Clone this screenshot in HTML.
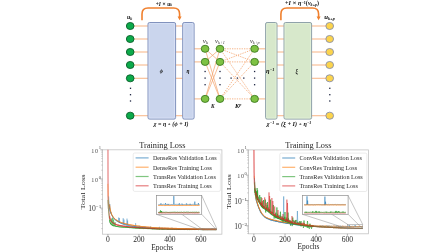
<!DOCTYPE html>
<html><head><meta charset="utf-8"><title>Figure</title>
<style>
html,body{margin:0;padding:0;background:#fff;}
body{width:448px;height:252px;overflow:hidden;}
svg{display:block;font-family:'Liberation Serif', 'DejaVu Serif', serif;}
</style></head>
<body>
<svg width="448" height="252" viewBox="0 0 448 252">
<rect width="448" height="252" fill="#fff"/>
<g id="diagram">
<line x1="133.5" y1="26" x2="148.5" y2="26" stroke="#f8bb8f" stroke-width="1.1"/>
<line x1="175.5" y1="26" x2="183" y2="26" stroke="#f8bb8f" stroke-width="1.1"/>
<line x1="133.5" y1="39" x2="148.5" y2="39" stroke="#f8bb8f" stroke-width="1.1"/>
<line x1="175.5" y1="39" x2="183" y2="39" stroke="#f8bb8f" stroke-width="1.1"/>
<line x1="133.5" y1="52" x2="148.5" y2="52" stroke="#f8bb8f" stroke-width="1.1"/>
<line x1="175.5" y1="52" x2="183" y2="52" stroke="#f8bb8f" stroke-width="1.1"/>
<line x1="133.5" y1="65" x2="148.5" y2="65" stroke="#f8bb8f" stroke-width="1.1"/>
<line x1="175.5" y1="65" x2="183" y2="65" stroke="#f8bb8f" stroke-width="1.1"/>
<line x1="133.5" y1="78.3" x2="148.5" y2="78.3" stroke="#f8bb8f" stroke-width="1.1"/>
<line x1="175.5" y1="78.3" x2="183" y2="78.3" stroke="#f8bb8f" stroke-width="1.1"/>
<line x1="133.5" y1="115.7" x2="148.5" y2="115.7" stroke="#f8bb8f" stroke-width="1.1"/>
<line x1="175.5" y1="115.7" x2="183" y2="115.7" stroke="#f8bb8f" stroke-width="1.1"/>
<line x1="310.5" y1="26" x2="326" y2="26" stroke="#f8bb8f" stroke-width="1.1"/>
<line x1="276.5" y1="26" x2="284.5" y2="26" stroke="#f8bb8f" stroke-width="1.1"/>
<line x1="310.5" y1="39" x2="326" y2="39" stroke="#f8bb8f" stroke-width="1.1"/>
<line x1="276.5" y1="39" x2="284.5" y2="39" stroke="#f8bb8f" stroke-width="1.1"/>
<line x1="310.5" y1="52" x2="326" y2="52" stroke="#f8bb8f" stroke-width="1.1"/>
<line x1="276.5" y1="52" x2="284.5" y2="52" stroke="#f8bb8f" stroke-width="1.1"/>
<line x1="310.5" y1="65" x2="326" y2="65" stroke="#f8bb8f" stroke-width="1.1"/>
<line x1="276.5" y1="65" x2="284.5" y2="65" stroke="#f8bb8f" stroke-width="1.1"/>
<line x1="310.5" y1="78.3" x2="326" y2="78.3" stroke="#f8bb8f" stroke-width="1.1"/>
<line x1="276.5" y1="78.3" x2="284.5" y2="78.3" stroke="#f8bb8f" stroke-width="1.1"/>
<line x1="310.5" y1="115.7" x2="326" y2="115.7" stroke="#f8bb8f" stroke-width="1.1"/>
<line x1="276.5" y1="115.7" x2="284.5" y2="115.7" stroke="#f8bb8f" stroke-width="1.1"/>
<line x1="193.5" y1="48.8" x2="201" y2="48.8" stroke="#f8bb8f" stroke-width="1.1"/>
<line x1="258" y1="48.8" x2="266" y2="48.8" stroke="#f8bb8f" stroke-width="1.1"/>
<line x1="193.5" y1="61.9" x2="201" y2="61.9" stroke="#f8bb8f" stroke-width="1.1"/>
<line x1="258" y1="61.9" x2="266" y2="61.9" stroke="#f8bb8f" stroke-width="1.1"/>
<line x1="193.5" y1="98.9" x2="201" y2="98.9" stroke="#f8bb8f" stroke-width="1.1"/>
<line x1="258" y1="98.9" x2="266" y2="98.9" stroke="#f8bb8f" stroke-width="1.1"/>
<line x1="205.1" y1="48.8" x2="220.0" y2="61.9" stroke="#f39c62" stroke-width="0.65"/>
<line x1="205.1" y1="61.9" x2="220.0" y2="48.8" stroke="#f39c62" stroke-width="0.65"/>
<line x1="205.1" y1="48.8" x2="220.0" y2="98.9" stroke="#f39c62" stroke-width="0.65"/>
<line x1="205.1" y1="98.9" x2="220.0" y2="48.8" stroke="#f39c62" stroke-width="0.65"/>
<line x1="205.1" y1="61.9" x2="220.0" y2="98.9" stroke="#f39c62" stroke-width="0.65"/>
<line x1="205.1" y1="98.9" x2="220.0" y2="61.9" stroke="#f39c62" stroke-width="0.65"/>
<line x1="220.0" y1="48.8" x2="254.6" y2="48.8" stroke="#f39c62" stroke-width="0.75" stroke-dasharray="1.3 1.1"/>
<line x1="220.0" y1="61.9" x2="254.6" y2="61.9" stroke="#f39c62" stroke-width="0.75" stroke-dasharray="1.3 1.1"/>
<line x1="220.0" y1="98.9" x2="254.6" y2="98.9" stroke="#f39c62" stroke-width="0.75" stroke-dasharray="1.3 1.1"/>
<line x1="220.0" y1="48.8" x2="254.6" y2="61.9" stroke="#f39c62" stroke-width="0.75" stroke-dasharray="1.3 1.1"/>
<line x1="220.0" y1="61.9" x2="254.6" y2="48.8" stroke="#f39c62" stroke-width="0.75" stroke-dasharray="1.3 1.1"/>
<line x1="220.0" y1="48.8" x2="254.6" y2="98.9" stroke="#f39c62" stroke-width="0.75" stroke-dasharray="1.3 1.1"/>
<line x1="220.0" y1="98.9" x2="254.6" y2="48.8" stroke="#f39c62" stroke-width="0.75" stroke-dasharray="1.3 1.1"/>
<line x1="220.0" y1="61.9" x2="254.6" y2="98.9" stroke="#f39c62" stroke-width="0.75" stroke-dasharray="1.3 1.1"/>
<line x1="220.0" y1="98.9" x2="254.6" y2="61.9" stroke="#f39c62" stroke-width="0.75" stroke-dasharray="1.3 1.1"/>
<rect x="148" y="22.5" width="27.6" height="96.6" rx="1.5" fill="#cad5ed" stroke="#8192bd" stroke-width="1.0"/>
<rect x="182.7" y="22.5" width="11.4" height="96.6" rx="1.5" fill="#cad5ed" stroke="#8192bd" stroke-width="1.0"/>
<rect x="265.6" y="22.5" width="11.4" height="96.6" rx="1.5" fill="#d7e8cb" stroke="#8fa2aa" stroke-width="1.0"/>
<rect x="284" y="22.5" width="27.6" height="96.6" rx="1.5" fill="#d7e8cb" stroke="#8fa2aa" stroke-width="1.0"/>
<rect x="149.1" y="23.6" width="25.4" height="94.4" rx="1" fill="none" stroke="#dfe6f8" stroke-width="0.6"/>
<rect x="183.8" y="23.6" width="9.2" height="94.4" rx="1" fill="none" stroke="#dfe6f8" stroke-width="0.6"/>
<rect x="266.7" y="23.6" width="9.2" height="94.4" rx="1" fill="none" stroke="#e6f3de" stroke-width="0.6"/>
<rect x="285.1" y="23.6" width="25.4" height="94.4" rx="1" fill="none" stroke="#e6f3de" stroke-width="0.6"/>
<ellipse cx="130.2" cy="26" rx="3.85" ry="3.55" fill="#0caa4a" stroke="#0a5e2a" stroke-width="0.9"/>
<ellipse cx="329.7" cy="26" rx="3.85" ry="3.55" fill="#fcd44c" stroke="#8a90a8" stroke-width="0.9"/>
<ellipse cx="130.2" cy="39" rx="3.85" ry="3.55" fill="#0caa4a" stroke="#0a5e2a" stroke-width="0.9"/>
<ellipse cx="329.7" cy="39" rx="3.85" ry="3.55" fill="#fcd44c" stroke="#8a90a8" stroke-width="0.9"/>
<ellipse cx="130.2" cy="52" rx="3.85" ry="3.55" fill="#0caa4a" stroke="#0a5e2a" stroke-width="0.9"/>
<ellipse cx="329.7" cy="52" rx="3.85" ry="3.55" fill="#fcd44c" stroke="#8a90a8" stroke-width="0.9"/>
<ellipse cx="130.2" cy="65" rx="3.85" ry="3.55" fill="#0caa4a" stroke="#0a5e2a" stroke-width="0.9"/>
<ellipse cx="329.7" cy="65" rx="3.85" ry="3.55" fill="#fcd44c" stroke="#8a90a8" stroke-width="0.9"/>
<ellipse cx="130.2" cy="78.3" rx="3.85" ry="3.55" fill="#0caa4a" stroke="#0a5e2a" stroke-width="0.9"/>
<ellipse cx="329.7" cy="78.3" rx="3.85" ry="3.55" fill="#fcd44c" stroke="#8a90a8" stroke-width="0.9"/>
<ellipse cx="130.2" cy="115.7" rx="3.85" ry="3.55" fill="#0caa4a" stroke="#0a5e2a" stroke-width="0.9"/>
<ellipse cx="329.7" cy="115.7" rx="3.85" ry="3.55" fill="#fcd44c" stroke="#8a90a8" stroke-width="0.9"/>
<ellipse cx="205.1" cy="48.8" rx="3.85" ry="3.55" fill="#7ec243" stroke="#3e7a22" stroke-width="0.9"/>
<ellipse cx="205.1" cy="61.9" rx="3.85" ry="3.55" fill="#7ec243" stroke="#3e7a22" stroke-width="0.9"/>
<ellipse cx="205.1" cy="98.9" rx="3.85" ry="3.55" fill="#7ec243" stroke="#3e7a22" stroke-width="0.9"/>
<ellipse cx="220" cy="48.8" rx="3.85" ry="3.55" fill="#7ec243" stroke="#3e7a22" stroke-width="0.9"/>
<ellipse cx="220" cy="61.9" rx="3.85" ry="3.55" fill="#7ec243" stroke="#3e7a22" stroke-width="0.9"/>
<ellipse cx="220" cy="98.9" rx="3.85" ry="3.55" fill="#7ec243" stroke="#3e7a22" stroke-width="0.9"/>
<ellipse cx="254.6" cy="48.8" rx="3.85" ry="3.55" fill="#7ec243" stroke="#3e7a22" stroke-width="0.9"/>
<ellipse cx="254.6" cy="61.9" rx="3.85" ry="3.55" fill="#7ec243" stroke="#3e7a22" stroke-width="0.9"/>
<ellipse cx="254.6" cy="98.9" rx="3.85" ry="3.55" fill="#7ec243" stroke="#3e7a22" stroke-width="0.9"/>
<rect x="129.85" y="87.65" width="1.3" height="1.3" fill="#1c2340"/>
<rect x="129.85" y="94.05" width="1.3" height="1.3" fill="#1c2340"/>
<rect x="129.85" y="100.35" width="1.3" height="1.3" fill="#1c2340"/>
<rect x="329.15" y="87.65" width="1.3" height="1.3" fill="#1c2340"/>
<rect x="329.15" y="94.05" width="1.3" height="1.3" fill="#1c2340"/>
<rect x="329.15" y="100.35" width="1.3" height="1.3" fill="#1c2340"/>
<rect x="204.45" y="70.85" width="1.3" height="1.3" fill="#1c2340"/>
<rect x="204.45" y="77.45" width="1.3" height="1.3" fill="#1c2340"/>
<rect x="204.45" y="84.05" width="1.3" height="1.3" fill="#1c2340"/>
<rect x="219.35" y="70.85" width="1.3" height="1.3" fill="#1c2340"/>
<rect x="219.35" y="77.45" width="1.3" height="1.3" fill="#1c2340"/>
<rect x="219.35" y="84.05" width="1.3" height="1.3" fill="#1c2340"/>
<rect x="253.95" y="70.85" width="1.3" height="1.3" fill="#1c2340"/>
<rect x="253.95" y="77.45" width="1.3" height="1.3" fill="#1c2340"/>
<rect x="253.95" y="84.05" width="1.3" height="1.3" fill="#1c2340"/>
<rect x="230.45" y="77.45" width="1.3" height="1.3" fill="#1c2340"/>
<rect x="236.75" y="77.45" width="1.3" height="1.3" fill="#1c2340"/>
<rect x="243.15" y="77.45" width="1.3" height="1.3" fill="#1c2340"/>
<path d="M142,20.2 V14 Q142,8 148,8 H173.6 Q179.6,8 179.6,14 V17.0" fill="none" stroke="#f0802e" stroke-width="1.6"/>
<path d="M177.6,16.4 L181.6,16.4 L179.6,20.2 Z" fill="#f0802e"/>
<path d="M280.9,20.2 V14 Q280.9,8 286.9,8 H312.6 Q318.6,8 318.6,14 V17.0" fill="none" stroke="#f0802e" stroke-width="1.6"/>
<path d="M316.6,16.4 L320.6,16.4 L318.6,20.2 Z" fill="#f0802e"/>
<text x="127" y="19" font-size="5.2" fill="#111" style="font-style:italic;font-weight:bold" textLength="5.2" lengthAdjust="spacingAndGlyphs">u<tspan font-size="3.4" dy="0.9">k</tspan></text>
<text x="324.3" y="19" font-size="5.2" fill="#111" style="font-style:italic;font-weight:bold" textLength="10.8" lengthAdjust="spacingAndGlyphs">u<tspan font-size="3.4" dy="0.9">k+p</tspan></text>
<text x="202.7" y="42.6" font-size="5.2" fill="#333" style="font-style:italic" textLength="5.4" lengthAdjust="spacingAndGlyphs">v<tspan font-size="3.4" dy="0.9">k</tspan></text>
<text x="215" y="42.6" font-size="5.2" fill="#333" style="font-style:italic" textLength="9.8" lengthAdjust="spacingAndGlyphs">v<tspan font-size="3.4" dy="0.9">k+1</tspan></text>
<text x="249.9" y="42.6" font-size="5.2" fill="#333" style="font-style:italic" textLength="9.8" lengthAdjust="spacingAndGlyphs">v<tspan font-size="3.4" dy="0.9">k+p</tspan></text>
<text x="155.7" y="5.5" font-size="5.4" fill="#111" style="font-weight:bold" textLength="16.4" lengthAdjust="spacingAndGlyphs">+<tspan font-style="italic">I</tspan> <tspan font-size="6.2">×</tspan> <tspan font-style="italic">u</tspan><tspan font-size="3.6" dy="0.9" font-style="italic">k</tspan></text>
<text x="285.1" y="5.4" font-size="5.4" fill="#111" style="font-weight:bold" textLength="34.0" lengthAdjust="spacingAndGlyphs">+<tspan font-style="italic">I</tspan> <tspan font-size="6.2">×</tspan> <tspan font-style="italic">η</tspan><tspan font-size="3.6" dy="-1.7">−1</tspan><tspan dy="1.7">(</tspan><tspan font-style="italic">v</tspan><tspan font-size="3.6" dy="0.9" font-style="italic">k+p</tspan><tspan dy="-0.9">)</tspan></text>
<text x="161.2" y="73" font-size="5.4" text-anchor="middle" fill="#111" style="font-style:italic;font-weight:bold" >ϕ</text>
<text x="188" y="72.8" font-size="5.4" text-anchor="middle" fill="#111" style="font-style:italic;font-weight:bold" >η</text>
<text x="266.1" y="73" font-size="5.4" fill="#111" style="font-style:italic;font-weight:bold" textLength="8.4" lengthAdjust="spacingAndGlyphs">η<tspan font-size="3.6" dy="-1.7">−1</tspan></text>
<text x="296.8" y="73" font-size="5.4" text-anchor="middle" fill="#111" style="font-style:italic;font-weight:bold" >ξ</text>
<text x="210.9" y="107.9" font-size="5.4" fill="#111" style="font-style:italic;font-weight:bold" textLength="3.6" lengthAdjust="spacingAndGlyphs">K</text>
<text x="234.9" y="107.9" font-size="5.4" fill="#111" style="font-style:italic;font-weight:bold" textLength="6.4" lengthAdjust="spacingAndGlyphs">K<tspan font-size="3.6" dy="-1.8">p</tspan></text>
<text x="153.7" y="126" font-size="5.6" fill="#111" style="font-style:italic;font-weight:bold" textLength="34.8" lengthAdjust="spacingAndGlyphs">χ = η ∘ (ϕ + I)</text>
<text x="266.8" y="125.8" font-size="5.6" fill="#111" style="font-style:italic;font-weight:bold" textLength="44.6" lengthAdjust="spacingAndGlyphs">χ<tspan font-size="3.6" dy="-1.8">−1</tspan><tspan dy="1.8"> = (ξ + I) ∘ η</tspan><tspan font-size="3.6" dy="-1.8">−1</tspan></text>
</g>
<g id="plots">
<clipPath id="clip102"><rect x="102.5" y="149.8" width="119.4" height="84.4"/></clipPath>
<rect x="102.5" y="149.8" width="119.4" height="84.4" fill="#fff" stroke="#c4c4c4" stroke-width="0.8"/>
<g clip-path="url(#clip102)" fill="none" stroke-linejoin="round">
<polyline points="107.9,118.2 108.0,169.1 108.1,196.1 108.2,199.8 108.2,202.1 108.3,203.6 108.4,204.9 108.5,206.3 108.5,207.6 108.6,208.8 108.7,209.8 108.8,210.8 108.9,211.7 108.9,212.4 109.0,213.1 109.1,213.7 109.2,214.3 109.2,214.8 109.3,215.3 109.4,215.8 109.5,216.3 109.6,216.7 109.6,217.1 109.7,217.5 109.8,217.8 109.9,218.1 109.9,218.3 110.0,218.6 110.1,218.8 110.2,219.0 110.3,219.2 110.3,219.4 110.4,219.5 110.5,219.7 110.6,219.9 110.6,220.0 110.7,220.2 110.8,220.3 110.9,220.5 111.0,220.6 111.0,220.8 111.3,221.2 111.6,221.6 112.0,222.0 112.3,222.3 112.6,222.5 112.9,222.8 113.2,223.0 113.5,223.2 113.8,223.4 114.1,223.6 114.4,223.8 114.8,223.9 115.1,224.1 115.4,224.2 115.7,224.3 116.0,224.5 116.3,224.6 116.6,224.7 116.9,224.8 117.2,224.9 117.5,225.0 117.9,225.1 118.2,225.2 118.5,225.3 118.8,225.3 119.1,225.4 119.4,225.5 119.7,225.5 120.0,225.6 120.3,225.7 120.6,225.7 121.0,225.8 121.3,225.8 121.6,225.9 121.9,225.9 122.2,226.0 122.5,226.0 122.8,226.1 123.1,226.1 123.4,226.2 123.7,226.2 124.1,226.2 124.4,226.3 124.7,226.3 125.0,226.4 125.3,226.4 125.6,226.4 125.9,226.5 126.2,226.5 126.5,226.5 126.8,226.6 127.2,226.6 127.5,226.7 127.8,226.7 128.1,226.7 128.4,226.8 128.7,226.8 129.0,226.8 129.3,226.9 129.6,226.9 129.9,226.9 130.3,227.0 130.6,227.0 130.9,227.0 131.2,227.1 131.5,227.1 131.8,227.1 132.1,227.1 132.4,227.2 132.7,227.2 133.0,227.2 133.4,227.3 133.7,227.3 134.0,227.3 134.3,227.4 134.6,227.4 134.9,227.4 135.2,227.4 135.5,227.5 135.8,227.5 136.1,227.5 136.5,227.5 136.8,227.6 137.1,227.6 137.4,227.6 137.7,227.6 138.0,227.7 138.3,227.7 138.6,227.7 138.9,227.7 139.3,227.8 139.6,227.8 139.9,227.8 140.2,227.8 140.5,227.8 140.8,227.9 141.1,227.9 141.4,227.9 141.7,227.9 142.0,227.9 142.4,227.9 142.7,228.0 143.0,228.0 143.3,228.0 143.6,228.0 143.9,228.0 144.2,228.1 144.5,228.1 144.8,228.1 145.1,228.1 145.5,228.1 145.8,228.1 146.1,228.2 146.4,228.2 146.7,228.2 147.0,228.2 147.3,228.2 147.6,228.3 147.9,228.3 148.2,228.3 148.6,228.3 148.9,228.3 149.2,228.3 149.5,228.4 149.8,228.4 150.1,228.4 150.4,228.4 150.7,228.4 151.0,228.4 151.3,228.4 151.7,228.5 152.0,228.5 152.3,228.5 152.6,228.5 152.9,228.5 153.2,228.5 153.5,228.6 153.8,228.6 154.1,228.6 154.4,228.6 154.8,228.6 155.1,228.6 155.4,228.6 155.7,228.6 156.0,228.7 156.3,228.7 156.6,228.7 156.9,228.7 157.2,228.7 157.5,228.7 157.9,228.7 158.2,228.7 158.5,228.7 158.8,228.8 159.1,228.8 159.4,228.8 159.7,228.8 160.0,228.8 160.3,228.8 160.6,228.8 161.0,228.8 161.3,228.8 161.6,228.8 161.9,228.9 162.2,228.9 162.5,228.9 162.8,228.9 163.1,228.9 163.4,228.9 163.8,228.9 164.1,228.9 164.4,228.9 164.7,228.9 165.0,228.9 165.3,228.9 165.6,228.9 165.9,228.9 166.2,228.9 166.5,228.9 166.9,229.0 167.2,229.0 167.5,229.0 167.8,229.0 168.1,229.0 168.4,229.0 168.7,229.0 169.0,229.0 169.3,229.0 169.6,229.0 170.0,229.0 170.3,229.0 170.6,229.0 170.9,229.0 171.2,229.0 171.5,229.0 171.8,229.0 172.1,229.1 172.4,229.1 172.7,229.1 173.1,229.1 173.4,229.1 173.7,229.1 174.0,229.1 174.3,229.1 174.6,229.1 174.9,229.1 175.2,229.1 175.5,229.1 175.8,229.1 176.2,229.1 176.5,229.1 176.8,229.1 177.1,229.1 177.4,229.1 177.7,229.1 178.0,229.2 178.3,229.2 178.6,229.2 178.9,229.2 179.3,229.2 179.6,229.2 179.9,229.2 180.2,229.2 180.5,229.2 180.8,229.2 181.1,229.2 181.4,229.2 181.7,229.2 182.0,229.2 182.4,229.2 182.7,229.2 183.0,229.2 183.3,229.2 183.6,229.2 183.9,229.2 184.2,229.2 184.5,229.3 184.8,229.3 185.1,229.3 185.5,229.3 185.8,229.3 186.1,229.3 186.4,229.3 186.7,229.3 187.0,229.3 187.3,229.3 187.6,229.3 187.9,229.3 188.3,229.3 188.6,229.3 188.9,229.3 189.2,229.3 189.5,229.3 189.8,229.3 190.1,229.3 190.4,229.3 190.7,229.3 191.0,229.3 191.4,229.3 191.7,229.3 192.0,229.4 192.3,229.4 192.6,229.4 192.9,229.4 193.2,229.4 193.5,229.4 193.8,229.4 194.1,229.4 194.5,229.4 194.8,229.4 195.1,229.4 195.4,229.4 195.7,229.4 196.0,229.4 196.3,229.4 196.6,229.4 196.9,229.4 197.2,229.4 197.6,229.4 197.9,229.4 198.2,229.4 198.5,229.4 198.8,229.4 199.1,229.4 199.4,229.4 199.7,229.4 200.0,229.4 200.3,229.4 200.7,229.4 201.0,229.4 201.3,229.4 201.6,229.4 201.9,229.4 202.2,229.4 202.5,229.4 202.8,229.5 203.1,229.5 203.4,229.5 203.8,229.5 204.1,229.5 204.4,229.5 204.7,229.5 205.0,229.5 205.3,229.5 205.6,229.5 205.9,229.5 206.2,229.5 206.5,229.5 206.9,229.5 207.2,229.5 207.5,229.5 207.8,229.5 208.1,229.5 208.4,229.5 208.7,229.5 209.0,229.5 209.3,229.5 209.6,229.5 210.0,229.5 210.3,229.5 210.6,229.5 210.9,229.5 211.2,229.5 211.5,229.5 211.8,229.5 212.1,229.5 212.4,229.5 212.8,229.5 213.1,229.5 213.4,229.5 213.7,229.5 214.0,229.5 214.3,229.5 214.6,229.5 214.9,229.5 215.2,229.5 215.5,229.5 215.9,229.5 216.2,229.5 216.5,229.5" stroke="#d62728" stroke-width="1.4" stroke-opacity="0.5"/>
<polyline points="107.9,183.8 108.0,188.6 108.1,192.1 108.2,194.1 108.2,195.6 108.3,196.8 108.4,197.9 108.5,198.9 108.5,199.8 108.6,200.7 108.7,201.4 108.8,202.2 108.9,202.8 108.9,203.5 109.0,204.1 109.1,204.7 109.2,205.3 109.2,205.8 109.3,206.4 109.4,206.9 109.5,207.3 109.6,207.8 109.6,208.2 109.7,208.5 109.8,208.9 109.9,209.2 109.9,209.5 110.0,209.8 110.1,210.1 110.2,210.4 110.3,210.7 110.3,210.9 110.4,211.2 110.5,211.5 110.6,211.7 110.6,212.0 110.7,212.2 110.8,212.4 110.9,212.7 111.0,212.9 111.0,213.2 111.3,214.0 111.6,214.8 112.0,215.4 112.3,215.9 112.6,216.4 112.9,216.8 113.2,217.2 113.5,217.6 113.8,217.9 114.1,218.2 114.4,218.5 114.8,218.8 115.1,219.1 115.4,219.3 115.7,219.6 116.0,219.8 116.3,220.0 116.6,220.2 116.9,220.5 117.2,220.7 117.5,220.8 117.9,221.0 118.2,221.2 118.5,221.4 118.8,221.5 119.1,221.7 119.4,221.8 119.7,221.9 120.0,222.1 120.3,222.2 120.6,222.3 121.0,222.4 121.3,222.5 121.6,222.6 121.9,222.7 122.2,222.8 122.5,222.9 122.8,223.0 123.1,223.1 123.4,223.2 123.7,223.3 124.1,223.4 124.4,223.5 124.7,223.5 125.0,223.6 125.3,223.7 125.6,223.8 125.9,223.9 126.2,223.9 126.5,224.0 126.8,224.1 127.2,224.1 127.5,224.2 127.8,224.3 128.1,224.3 128.4,224.4 128.7,224.5 129.0,224.5 129.3,224.6 129.6,224.7 129.9,224.7 130.3,224.8 130.6,224.8 130.9,224.9 131.2,225.0 131.5,225.0 131.8,225.1 132.1,225.1 132.4,225.2 132.7,225.3 133.0,225.3 133.4,225.4 133.7,225.4 134.0,225.5 134.3,225.5 134.6,225.6 134.9,225.6 135.2,225.7 135.5,225.7 135.8,225.8 136.1,225.8 136.5,225.9 136.8,225.9 137.1,225.9 137.4,226.0 137.7,226.0 138.0,226.1 138.3,226.1 138.6,226.1 138.9,226.2 139.3,226.2 139.6,226.3 139.9,226.3 140.2,226.3 140.5,226.4 140.8,226.4 141.1,226.4 141.4,226.5 141.7,226.5 142.0,226.5 142.4,226.5 142.7,226.6 143.0,226.6 143.3,226.6 143.6,226.7 143.9,226.7 144.2,226.7 144.5,226.8 144.8,226.8 145.1,226.8 145.5,226.9 145.8,226.9 146.1,226.9 146.4,226.9 146.7,227.0 147.0,227.0 147.3,227.0 147.6,227.1 147.9,227.1 148.2,227.1 148.6,227.1 148.9,227.2 149.2,227.2 149.5,227.2 149.8,227.3 150.1,227.3 150.4,227.3 150.7,227.3 151.0,227.4 151.3,227.4 151.7,227.4 152.0,227.4 152.3,227.5 152.6,227.5 152.9,227.5 153.2,227.5 153.5,227.5 153.8,227.6 154.1,227.6 154.4,227.6 154.8,227.6 155.1,227.7 155.4,227.7 155.7,227.7 156.0,227.7 156.3,227.7 156.6,227.8 156.9,227.8 157.2,227.8 157.5,227.8 157.9,227.8 158.2,227.8 158.5,227.9 158.8,227.9 159.1,227.9 159.4,227.9 159.7,227.9 160.0,227.9 160.3,228.0 160.6,228.0 161.0,228.0 161.3,228.0 161.6,228.0 161.9,228.0 162.2,228.0 162.5,228.0 162.8,228.1 163.1,228.1 163.4,228.1 163.8,228.1 164.1,228.1 164.4,228.1 164.7,228.1 165.0,228.1 165.3,228.1 165.6,228.1 165.9,228.2 166.2,228.2 166.5,228.2 166.9,228.2 167.2,228.2 167.5,228.2 167.8,228.2 168.1,228.2 168.4,228.2 168.7,228.2 169.0,228.2 169.3,228.3 169.6,228.3 170.0,228.3 170.3,228.3 170.6,228.3 170.9,228.3 171.2,228.3 171.5,228.3 171.8,228.3 172.1,228.3 172.4,228.3 172.7,228.4 173.1,228.4 173.4,228.4 173.7,228.4 174.0,228.4 174.3,228.4 174.6,228.4 174.9,228.4 175.2,228.4 175.5,228.4 175.8,228.4 176.2,228.4 176.5,228.4 176.8,228.5 177.1,228.5 177.4,228.5 177.7,228.5 178.0,228.5 178.3,228.5 178.6,228.5 178.9,228.5 179.3,228.5 179.6,228.5 179.9,228.5 180.2,228.5 180.5,228.5 180.8,228.6 181.1,228.6 181.4,228.6 181.7,228.6 182.0,228.6 182.4,228.6 182.7,228.6 183.0,228.6 183.3,228.6 183.6,228.6 183.9,228.6 184.2,228.6 184.5,228.6 184.8,228.6 185.1,228.6 185.5,228.7 185.8,228.7 186.1,228.7 186.4,228.7 186.7,228.7 187.0,228.7 187.3,228.7 187.6,228.7 187.9,228.7 188.3,228.7 188.6,228.7 188.9,228.7 189.2,228.7 189.5,228.7 189.8,228.7 190.1,228.7 190.4,228.8 190.7,228.8 191.0,228.8 191.4,228.8 191.7,228.8 192.0,228.8 192.3,228.8 192.6,228.8 192.9,228.8 193.2,228.8 193.5,228.8 193.8,228.8 194.1,228.8 194.5,228.8 194.8,228.8 195.1,228.8 195.4,228.8 195.7,228.8 196.0,228.8 196.3,228.8 196.6,228.9 196.9,228.9 197.2,228.9 197.6,228.9 197.9,228.9 198.2,228.9 198.5,228.9 198.8,228.9 199.1,228.9 199.4,228.9 199.7,228.9 200.0,228.9 200.3,228.9 200.7,228.9 201.0,228.9 201.3,228.9 201.6,228.9 201.9,228.9 202.2,228.9 202.5,228.9 202.8,228.9 203.1,228.9 203.4,228.9 203.8,228.9 204.1,228.9 204.4,228.9 204.7,228.9 205.0,228.9 205.3,229.0 205.6,229.0 205.9,229.0 206.2,229.0 206.5,229.0 206.9,229.0 207.2,229.0 207.5,229.0 207.8,229.0 208.1,229.0 208.4,229.0 208.7,229.0 209.0,229.0 209.3,229.0 209.6,229.0 210.0,229.0 210.3,229.0 210.6,229.0 210.9,229.0 211.2,229.0 211.5,229.0 211.8,229.0 212.1,229.0 212.4,229.0 212.8,229.0 213.1,229.0 213.4,229.0 213.7,229.0 214.0,229.0 214.3,229.0 214.6,229.0 214.9,229.0 215.2,229.0 215.5,229.0 215.9,229.0 216.2,229.0 216.5,229.0" stroke="#ff7f0e" stroke-width="1.0" stroke-opacity="0.45"/>
<polyline points="108.7,196.4 108.8,197.6 108.9,198.8 108.9,199.9 109.0,200.9 109.1,202.2 109.2,203.5 109.2,204.3 109.3,205.6 109.4,206.2 109.5,207.0 109.6,208.1 109.6,208.4 109.7,208.5 109.8,209.1 109.5,209.2 109.8,204.0 110.1,209.2 109.9,209.7 109.9,210.5 110.0,210.2 110.1,210.5 110.2,211.2 110.3,210.9 110.3,211.4 110.4,212.0 110.5,212.1 110.6,212.2 110.6,212.6 110.7,211.8 110.8,213.1 110.9,212.8 111.0,212.7 111.0,213.5 111.3,214.3 111.6,214.6 112.0,215.0 112.3,215.9 112.6,216.5 112.9,217.4 113.2,217.7 113.5,218.0 113.8,218.7 114.1,218.7 114.4,218.8 114.8,219.5 115.1,219.8 115.4,219.9 115.7,219.9 116.0,220.5 116.3,219.9 116.6,221.1 116.9,221.2 117.2,220.7 117.5,221.4 117.9,221.3 118.2,222.0 118.5,221.3 118.4,221.7 118.7,217.5 119.0,221.7 118.8,221.8 119.1,222.5 119.1,222.8 119.4,218.0 119.7,222.8 119.4,222.8 119.7,222.0 120.0,222.6 120.3,223.0 120.6,222.9 121.0,223.7 121.3,223.0 121.6,223.6 121.9,223.3 122.2,224.1 122.5,223.8 122.8,223.8 123.1,223.5 122.9,223.8 123.2,218.2 123.5,223.8 123.4,224.6 123.7,224.5 123.7,224.5 124.0,219.5 124.3,224.5 124.1,224.5 124.4,224.7 124.7,224.6 125.0,224.4 125.3,224.4 125.6,224.5 125.9,225.2 126.2,224.5 126.5,224.8 126.8,225.0 126.7,225.1 127.0,218.6 127.3,225.1 127.2,225.2 127.5,225.4 127.3,225.2 127.6,220.5 127.9,225.2 127.8,224.9 128.1,224.8 128.4,225.4 128.7,225.8 129.0,225.8 129.3,225.7 129.6,225.6 129.9,225.8 130.3,225.7 130.6,226.1 130.9,225.7 131.2,226.0 131.5,226.0 131.8,226.2 132.1,226.2 132.4,226.9 132.7,226.7 133.0,226.7 133.4,225.7 133.7,226.2 134.0,226.2 134.3,226.6 134.6,225.8 134.9,226.8 135.2,226.8 135.5,226.2 135.3,226.2 135.6,223.2 135.9,226.2 135.8,226.3 136.1,226.4 136.5,226.7 136.8,226.9 137.1,227.3 137.4,226.7 137.7,227.0 138.0,226.9 138.3,227.4 138.6,227.1 138.9,227.3 138.9,226.7 139.2,225.6 139.5,226.7 139.3,226.6 139.6,226.9 139.9,226.7 140.2,227.5 140.5,227.2 140.8,227.0 141.1,227.0 141.4,227.3 141.7,226.9 142.0,226.9 142.4,227.3 142.7,228.0 143.0,227.2 143.3,227.1 143.6,227.0 143.9,226.9 144.2,227.5 144.5,227.6 144.8,227.4 144.7,227.5 145.0,226.3 145.3,227.5 145.1,227.5 145.5,227.5 145.8,227.5 146.1,227.0 146.4,227.4 146.7,227.6 147.0,227.3 147.3,227.5 147.6,227.4 147.9,227.5 148.2,227.9 148.6,227.6 148.9,227.7 149.2,228.0 149.5,227.9 149.8,228.3 150.1,227.2 150.4,228.1 150.2,228.0 150.5,226.6 150.8,228.0 150.7,227.7 151.0,227.9 151.3,228.1 151.7,228.2 152.0,228.2 152.3,228.0 152.6,228.4 152.9,227.9 153.2,227.9 153.5,228.2 153.8,227.8 154.1,228.7 154.4,228.3 154.8,228.7 155.1,228.1 155.4,228.0 155.7,228.1 156.0,228.3 156.3,227.9 156.6,228.2 156.9,228.1 157.2,228.6 157.5,228.0 157.9,228.5 158.2,228.0 158.5,227.9 158.8,228.0 159.1,227.9 159.4,228.3 159.3,228.5 159.6,226.8 159.9,228.5 159.7,228.6 160.0,228.3 160.3,228.5 160.6,228.8 161.0,228.4 161.3,228.4 161.6,228.2 161.9,227.9 162.2,228.6 162.5,227.8 162.8,228.6 163.1,228.4 163.4,228.7 163.8,228.4 164.1,228.2 164.4,228.5 164.7,228.2 165.0,228.4 165.3,228.4 165.6,228.4 165.9,228.4 166.2,228.2 166.5,228.4 166.9,227.8 167.2,228.4 167.5,228.1 167.8,228.8 168.1,228.9 168.4,227.9 168.7,228.6 169.0,228.5 169.3,228.2 169.6,228.7 170.0,228.4 170.3,228.6 170.6,228.6 170.9,228.6 171.2,228.6 171.5,228.6 171.8,228.6 171.7,228.6 172.0,227.6 172.3,228.6 172.1,228.6 172.4,228.6 172.7,228.6 173.1,228.6 173.4,228.6 173.7,228.6 174.0,228.6 174.3,228.7 174.6,228.7 174.9,228.7 175.2,228.7 175.5,228.7 175.8,228.7 176.2,228.7 176.5,228.7 176.8,228.7 177.1,228.7 177.4,228.7 177.7,228.7 178.0,228.7 178.3,228.7 178.6,228.8 178.9,228.8 179.3,228.8 179.6,228.8 179.9,228.8 180.2,228.8 180.5,228.8 180.8,228.8 181.1,228.8 181.4,228.8 181.7,228.8 182.0,228.8 182.4,228.8 182.7,228.8 183.0,228.8 183.3,228.8 183.6,228.9 183.9,228.9 184.2,228.9 184.5,228.9 184.8,228.9 185.1,228.9 185.5,228.9 185.8,228.9 185.7,228.9 186.0,228.1 186.3,228.9 186.1,228.9 186.4,228.9 186.7,228.9 187.0,228.9 187.3,228.9 187.6,228.9 187.9,228.9 188.3,228.9 188.6,228.9 188.9,228.9 189.2,229.0 189.5,229.0 189.8,229.0 190.1,229.0 190.4,229.0 190.7,229.0 191.0,229.0 191.4,229.0 191.7,229.0 192.0,229.0 192.3,229.0 192.6,229.0 192.9,229.0 193.2,229.0 193.5,229.0 193.8,229.0 194.1,229.0 194.5,229.0 194.8,229.0 195.1,229.0 195.4,229.0 195.7,229.1 195.7,229.1 196.0,228.1 196.3,229.1 196.0,229.1 196.3,229.1 196.6,229.1 196.9,229.1 197.2,229.1 197.6,229.1 197.9,229.1 198.2,229.1 198.5,229.1 198.8,229.1 199.1,229.1 199.4,229.1 199.7,229.1 200.0,229.1 200.3,229.1 200.7,229.1 201.0,229.1 201.3,229.1 201.6,229.1 201.9,229.1 202.2,229.1 202.5,229.1 202.8,229.1 203.1,229.1 203.4,229.1 203.8,229.1 204.1,229.1 204.4,229.1 204.7,229.2 205.0,229.2 205.3,229.2 205.6,229.2 205.9,229.2 206.2,229.2 206.5,229.2 206.9,229.2 207.2,229.2 207.5,229.2 207.8,229.2 208.1,229.2 208.4,229.2 208.7,229.2 209.0,229.2 209.3,229.2 209.6,229.2 210.0,229.2 210.3,229.2 210.6,229.2 210.9,229.2 211.2,229.2 211.5,229.2 211.8,229.2 211.7,229.2 212.0,228.0 212.3,229.2 212.1,229.2 212.4,229.2 212.8,229.2 213.1,229.2 213.4,229.2 213.7,229.2 214.0,229.2 214.3,229.2 214.6,229.2 214.9,229.2 215.2,229.2 215.5,229.2 215.9,229.2 216.2,229.2 216.5,229.2" stroke="#1f77b4" stroke-width="0.8" stroke-opacity="0.4"/>
<polyline points="107.9,199.9 108.0,201.8 108.1,203.0 108.2,204.8 108.2,206.1 108.3,207.6 108.4,208.7 108.5,209.6 108.5,210.1 108.6,211.6 108.7,212.6 108.8,213.2 108.9,214.1 108.9,214.6 109.0,215.3 109.1,215.8 109.2,217.1 109.2,217.4 109.3,218.0 109.4,218.4 109.5,219.4 109.6,220.4 109.6,220.7 109.7,220.9 109.8,221.8 109.9,222.1 109.9,222.2 110.0,222.4 110.1,222.7 110.2,222.8 110.3,223.0 110.3,222.8 110.4,223.5 110.5,223.4 110.6,223.9 110.6,223.1 110.7,223.9 110.8,224.0 110.9,223.8 111.0,224.1 111.0,224.3 111.3,224.6 111.1,224.6 111.6,218.5 112.1,224.6 111.6,224.6 112.0,224.9 112.3,225.4 112.6,225.6 112.1,225.6 112.6,217.8 113.1,225.6 112.9,225.4 113.2,225.6 113.5,225.7 113.1,225.8 113.6,219.5 114.1,225.8 113.8,226.0 114.1,225.6 114.4,225.6 114.8,226.1 114.5,225.9 115.0,222.0 115.5,225.9 115.1,225.8 115.4,226.0 115.7,226.3 116.0,226.4 116.3,226.1 116.6,226.6 116.9,226.0 117.2,226.7 117.5,226.2 117.9,226.3 118.2,226.8 118.5,226.6 118.8,226.6 119.1,226.7 119.4,227.0 119.7,226.9 120.0,226.9 120.3,227.2 120.6,226.8 121.0,226.9 121.3,226.9 121.6,227.3 121.9,227.3 122.2,227.4 122.5,227.1 122.8,227.1 123.1,227.4 123.4,227.1 123.7,227.4 124.1,227.4 124.4,227.1 124.7,227.2 125.0,227.2 125.3,227.7 125.6,228.0 125.9,227.3 126.2,227.4 126.5,226.8 126.8,227.4 127.2,227.4 127.5,227.2 127.8,227.6 128.1,227.1 128.4,227.4 128.7,227.5 129.0,227.2 129.3,227.8 129.6,227.8 129.9,227.3 130.3,227.3 130.6,227.8 130.9,227.7 131.2,227.4 131.5,227.6 131.8,227.7 132.1,227.7 132.4,228.0 132.7,227.9 133.0,228.2 133.4,228.2 133.7,228.0 134.0,228.1 134.3,228.2 134.6,228.1 134.9,227.6 135.2,228.2 135.5,228.0 135.8,228.4 136.1,228.0 136.5,228.1 136.8,228.1 137.1,228.5 137.4,228.1 137.7,228.0 138.0,228.2 138.3,228.0 138.6,228.2 138.9,228.1 139.3,228.2 139.6,228.7 139.9,228.1 140.2,228.2 140.5,228.2 140.8,228.4 141.1,228.0 141.4,228.1 141.7,228.3 142.0,228.4 142.4,228.3 142.7,228.2 143.0,228.1 143.3,228.5 143.6,228.7 143.9,228.5 144.2,228.4 144.5,228.5 144.8,228.2 145.1,228.4 145.5,228.4 145.8,228.5 146.1,228.5 146.4,228.2 146.7,228.8 147.0,229.0 147.3,228.5 147.6,228.7 147.9,228.6 148.2,228.8 148.6,228.2 148.9,229.0 149.2,228.5 149.5,229.0 149.8,228.7 150.1,228.6 150.4,228.6 150.7,228.9 151.0,228.5 151.3,228.6 151.7,228.6 152.0,228.3 152.3,229.1 152.6,228.9 152.9,228.8 153.2,229.1 153.5,228.6 153.8,228.8 154.1,229.3 154.4,229.1 154.8,228.3 155.1,228.0 155.4,228.6 155.7,229.1 156.0,228.8 156.3,228.8 156.6,229.1 156.9,228.7 157.2,229.0 157.5,229.1 157.9,229.1 158.2,229.1 158.5,228.8 158.8,229.1 159.1,228.9 159.4,229.3 159.7,229.6 160.0,228.8 160.3,228.5 160.6,228.9 161.0,229.1 161.3,229.3 161.6,229.3 161.9,228.9 162.2,228.9 162.5,229.4 162.8,228.8 163.1,229.4 163.4,229.0 163.8,229.3 164.1,229.3 164.4,229.3 164.7,229.3 165.0,228.9 165.3,229.2 165.6,229.1 165.9,229.2 166.2,229.4 166.5,229.1 166.9,229.0 167.2,229.0 167.5,229.1 167.8,229.3 168.1,229.0 168.4,229.5 168.7,229.2 169.0,229.1 169.3,228.9 169.6,229.3 170.0,229.4 170.3,228.8 170.6,229.5 170.9,229.6 171.2,229.3 171.5,229.3 171.8,229.8 172.1,229.5 172.4,229.0 172.7,229.2 173.1,229.2 173.4,229.2 173.7,228.7 174.0,229.4 174.3,229.1 174.6,229.3 174.9,229.2 175.2,229.5 175.5,229.2 175.8,229.1 176.2,229.4 176.5,229.6 176.8,229.2 177.1,229.6 177.4,229.4 177.7,229.2 178.0,229.7 178.3,229.1 178.6,229.6 178.9,229.2 179.3,229.4 179.6,229.0 179.9,229.1 180.2,229.6 180.5,229.4 180.8,229.4 181.1,229.2 181.4,229.5 181.7,229.0 182.0,229.1 182.4,229.3 182.7,229.2 183.0,229.2 183.3,229.4 183.6,229.3 183.9,229.3 184.2,229.8 184.5,229.6 184.8,229.7 185.1,229.4 185.5,229.3 185.8,229.0 186.1,229.3 186.4,228.9 186.7,229.3 187.0,229.6 187.3,229.8 187.6,229.7 187.9,229.2 188.3,229.6 188.6,229.2 188.9,229.6 189.2,229.4 189.5,229.7 189.8,230.1 190.1,229.7 190.4,230.0 190.7,229.5 191.0,229.4 191.4,229.8 191.7,229.9 192.0,229.3 192.3,229.5 192.6,229.1 192.9,229.4 193.2,229.7 193.5,229.5 193.8,229.3 194.1,229.1 194.5,229.6 194.8,229.7 195.1,229.7 195.4,229.6 195.7,229.2 196.0,230.0 196.3,229.5 196.6,229.5 196.9,229.7 197.2,229.0 197.6,229.5 197.9,229.5 198.2,229.6 198.5,229.9 198.8,229.7 199.1,229.1 199.4,229.5 199.7,229.6 200.0,229.6 200.3,229.2 200.7,229.1 201.0,229.7 201.3,229.6 201.6,229.5 201.9,229.1 202.2,230.0 202.5,228.8 202.8,229.5 203.1,230.1 203.4,229.5 203.8,229.6 204.1,229.3 204.4,229.9 204.7,229.2 205.0,229.6 205.3,229.6 205.6,229.3 205.9,229.8 206.2,229.2 206.5,229.4 206.9,229.6 207.2,229.5 207.5,229.7 207.8,229.8 208.1,229.5 208.4,229.4 208.7,229.5 209.0,229.5 209.3,229.8 209.6,229.5 210.0,229.7 210.3,229.6 210.6,229.4 210.9,229.8 211.2,229.3 211.5,229.6 211.8,230.0 212.1,229.3 212.4,229.6 212.8,229.2 213.1,229.5 213.4,229.2 213.7,229.5 214.0,229.5 214.3,229.6 214.6,230.0 214.9,229.7 215.2,229.8 215.5,229.6 215.9,229.5 216.2,229.4 216.5,229.1" stroke="#2ca02c" stroke-width="0.9" stroke-opacity="0.5"/>
<polyline points="109.3,205.3 109.4,206.2 109.5,207.0 109.6,207.7 109.6,208.2 109.7,208.7 109.8,209.1 109.9,209.5 109.9,209.9 110.0,210.3 110.1,210.6 110.2,210.9 110.3,211.2 110.3,211.5 110.4,211.7 110.5,212.0 110.6,212.2 110.6,212.4 110.7,212.6 110.8,212.8 110.9,213.0 111.0,213.2 111.0,213.4 111.3,214.1 111.6,214.7 112.0,215.3 112.3,215.9 112.6,216.5 112.9,217.0 113.2,217.5 113.5,218.0 113.8,218.4 114.1,218.7 114.4,219.1 114.8,219.4 115.1,219.7 115.4,219.9 115.7,220.2 116.0,220.4 116.3,220.6 116.6,220.8 116.9,221.0 117.2,221.2 117.5,221.4 117.9,221.6 118.2,221.8 118.5,222.0 118.8,222.1 119.1,222.3 119.4,222.4 119.7,222.6 120.0,222.8 120.3,222.9 120.6,223.0 121.0,223.2 121.3,223.3 121.6,223.5 121.9,223.6 122.2,223.7 122.5,223.8 122.8,223.9 123.1,224.0 123.4,224.1 123.7,224.2 124.1,224.3 124.4,224.4 124.7,224.5 125.0,224.6 125.3,224.7 125.6,224.7 125.9,224.8 126.2,224.9 126.5,225.0 126.8,225.1 127.2,225.1 127.5,225.2 127.8,225.3 128.1,225.3 128.4,225.4 128.7,225.5 129.0,225.5 129.3,225.6 129.6,225.7 129.9,225.7 130.3,225.8 130.6,225.9 130.9,225.9 131.2,226.0 131.5,226.0 131.8,226.1 132.1,226.1 132.4,226.2 132.7,226.2 133.0,226.3 133.4,226.3 133.7,226.3 134.0,226.4 134.3,226.4 134.6,226.5 134.9,226.5 135.2,226.5 135.5,226.6 135.8,226.6 136.1,226.6 136.5,226.7 136.8,226.7 137.1,226.7 137.4,226.7 137.7,226.8 138.0,226.8 138.3,226.8 138.6,226.9 138.9,226.9 139.3,226.9 139.6,227.0 139.9,227.0 140.2,227.0 140.5,227.0 140.8,227.1 141.1,227.1 141.4,227.1 141.7,227.2 142.0,227.2 142.4,227.2 142.7,227.2 143.0,227.3 143.3,227.3 143.6,227.3 143.9,227.3 144.2,227.4 144.5,227.4 144.8,227.4 145.1,227.4 145.5,227.5 145.8,227.5 146.1,227.5 146.4,227.5 146.7,227.5 147.0,227.6 147.3,227.6 147.6,227.6 147.9,227.6 148.2,227.7 148.6,227.7 148.9,227.7 149.2,227.7 149.5,227.7 149.8,227.8 150.1,227.8 150.4,227.8 150.7,227.8 151.0,227.8 151.3,227.9 151.7,227.9 152.0,227.9 152.3,227.9 152.6,227.9 152.9,227.9 153.2,228.0 153.5,228.0 153.8,228.0 154.1,228.0 154.4,228.0 154.8,228.0 155.1,228.1 155.4,228.1 155.7,228.1 156.0,228.1 156.3,228.1 156.6,228.1 156.9,228.1 157.2,228.2 157.5,228.2 157.9,228.2 158.2,228.2 158.5,228.2 158.8,228.2 159.1,228.2 159.4,228.3 159.7,228.3 160.0,228.3 160.3,228.3 160.6,228.3 161.0,228.3 161.3,228.3 161.6,228.3 161.9,228.3 162.2,228.3 162.5,228.4 162.8,228.4 163.1,228.4 163.4,228.4 163.8,228.4 164.1,228.4 164.4,228.4 164.7,228.4 165.0,228.4 165.3,228.4 165.6,228.4 165.9,228.5 166.2,228.5 166.5,228.5 166.9,228.5 167.2,228.5 167.5,228.5 167.8,228.5 168.1,228.5 168.4,228.5 168.7,228.5 169.0,228.5 169.3,228.5 169.6,228.5 170.0,228.6 170.3,228.6 170.6,228.6 170.9,228.6 171.2,228.6 171.5,228.6 171.8,228.6 172.1,228.6 172.4,228.6 172.7,228.6 173.1,228.6 173.4,228.6 173.7,228.6 174.0,228.6 174.3,228.7 174.6,228.7 174.9,228.7 175.2,228.7 175.5,228.7 175.8,228.7 176.2,228.7 176.5,228.7 176.8,228.7 177.1,228.7 177.4,228.7 177.7,228.7 178.0,228.7 178.3,228.7 178.6,228.8 178.9,228.8 179.3,228.8 179.6,228.8 179.9,228.8 180.2,228.8 180.5,228.8 180.8,228.8 181.1,228.8 181.4,228.8 181.7,228.8 182.0,228.8 182.4,228.8 182.7,228.8 183.0,228.8 183.3,228.8 183.6,228.9 183.9,228.9 184.2,228.9 184.5,228.9 184.8,228.9 185.1,228.9 185.5,228.9 185.8,228.9 186.1,228.9 186.4,228.9 186.7,228.9 187.0,228.9 187.3,228.9 187.6,228.9 187.9,228.9 188.3,228.9 188.6,228.9 188.9,228.9 189.2,229.0 189.5,229.0 189.8,229.0 190.1,229.0 190.4,229.0 190.7,229.0 191.0,229.0 191.4,229.0 191.7,229.0 192.0,229.0 192.3,229.0 192.6,229.0 192.9,229.0 193.2,229.0 193.5,229.0 193.8,229.0 194.1,229.0 194.5,229.0 194.8,229.0 195.1,229.0 195.4,229.0 195.7,229.1 196.0,229.1 196.3,229.1 196.6,229.1 196.9,229.1 197.2,229.1 197.6,229.1 197.9,229.1 198.2,229.1 198.5,229.1 198.8,229.1 199.1,229.1 199.4,229.1 199.7,229.1 200.0,229.1 200.3,229.1 200.7,229.1 201.0,229.1 201.3,229.1 201.6,229.1 201.9,229.1 202.2,229.1 202.5,229.1 202.8,229.1 203.1,229.1 203.4,229.1 203.8,229.1 204.1,229.1 204.4,229.1 204.7,229.2 205.0,229.2 205.3,229.2 205.6,229.2 205.9,229.2 206.2,229.2 206.5,229.2 206.9,229.2 207.2,229.2 207.5,229.2 207.8,229.2 208.1,229.2 208.4,229.2 208.7,229.2 209.0,229.2 209.3,229.2 209.6,229.2 210.0,229.2 210.3,229.2 210.6,229.2 210.9,229.2 211.2,229.2 211.5,229.2 211.8,229.2 212.1,229.2 212.4,229.2 212.8,229.2 213.1,229.2 213.4,229.2 213.7,229.2 214.0,229.2 214.3,229.2 214.6,229.2 214.9,229.2 215.2,229.2 215.5,229.2 215.9,229.2 216.2,229.2 216.5,229.2" stroke="#1f77b4" stroke-width="0.8" stroke-opacity="0.9"/>
<polyline points="109.6,220.1 109.6,220.6 109.7,221.1 109.8,221.5 109.9,221.7 109.9,222.0 110.0,222.2 110.1,222.4 110.2,222.6 110.3,222.8 110.3,223.0 110.4,223.2 110.5,223.3 110.6,223.4 110.6,223.6 110.7,223.7 110.8,223.8 110.9,223.9 111.0,224.0 111.0,224.1 111.3,224.5 111.6,224.8 112.0,225.0 112.3,225.1 112.6,225.3 112.9,225.4 113.2,225.5 113.5,225.7 113.8,225.8 114.1,225.9 114.4,225.9 114.8,226.0 115.1,226.1 115.4,226.2 115.7,226.2 116.0,226.3 116.3,226.4 116.6,226.4 116.9,226.5 117.2,226.5 117.5,226.6 117.9,226.6 118.2,226.7 118.5,226.7 118.8,226.8 119.1,226.8 119.4,226.8 119.7,226.9 120.0,226.9 120.3,226.9 120.6,227.0 121.0,227.0 121.3,227.0 121.6,227.0 121.9,227.1 122.2,227.1 122.5,227.1 122.8,227.1 123.1,227.2 123.4,227.2 123.7,227.2 124.1,227.2 124.4,227.2 124.7,227.3 125.0,227.3 125.3,227.3 125.6,227.3 125.9,227.3 126.2,227.3 126.5,227.4 126.8,227.4 127.2,227.4 127.5,227.4 127.8,227.5 128.1,227.5 128.4,227.5 128.7,227.5 129.0,227.5 129.3,227.6 129.6,227.6 129.9,227.6 130.3,227.6 130.6,227.6 130.9,227.7 131.2,227.7 131.5,227.7 131.8,227.7 132.1,227.7 132.4,227.8 132.7,227.8 133.0,227.8 133.4,227.8 133.7,227.8 134.0,227.9 134.3,227.9 134.6,227.9 134.9,227.9 135.2,227.9 135.5,228.0 135.8,228.0 136.1,228.0 136.5,228.0 136.8,228.0 137.1,228.0 137.4,228.1 137.7,228.1 138.0,228.1 138.3,228.1 138.6,228.1 138.9,228.1 139.3,228.2 139.6,228.2 139.9,228.2 140.2,228.2 140.5,228.2 140.8,228.2 141.1,228.3 141.4,228.3 141.7,228.3 142.0,228.3 142.4,228.3 142.7,228.3 143.0,228.3 143.3,228.4 143.6,228.4 143.9,228.4 144.2,228.4 144.5,228.4 144.8,228.4 145.1,228.4 145.5,228.5 145.8,228.5 146.1,228.5 146.4,228.5 146.7,228.5 147.0,228.5 147.3,228.5 147.6,228.6 147.9,228.6 148.2,228.6 148.6,228.6 148.9,228.6 149.2,228.6 149.5,228.6 149.8,228.7 150.1,228.7 150.4,228.7 150.7,228.7 151.0,228.7 151.3,228.7 151.7,228.7 152.0,228.7 152.3,228.8 152.6,228.8 152.9,228.8 153.2,228.8 153.5,228.8 153.8,228.8 154.1,228.8 154.4,228.8 154.8,228.8 155.1,228.9 155.4,228.9 155.7,228.9 156.0,228.9 156.3,228.9 156.6,228.9 156.9,228.9 157.2,228.9 157.5,228.9 157.9,229.0 158.2,229.0 158.5,229.0 158.8,229.0 159.1,229.0 159.4,229.0 159.7,229.0 160.0,229.0 160.3,229.0 160.6,229.0 161.0,229.0 161.3,229.0 161.6,229.1 161.9,229.1 162.2,229.1 162.5,229.1 162.8,229.1 163.1,229.1 163.4,229.1 163.8,229.1 164.1,229.1 164.4,229.1 164.7,229.1 165.0,229.1 165.3,229.1 165.6,229.1 165.9,229.1 166.2,229.1 166.5,229.1 166.9,229.1 167.2,229.2 167.5,229.2 167.8,229.2 168.1,229.2 168.4,229.2 168.7,229.2 169.0,229.2 169.3,229.2 169.6,229.2 170.0,229.2 170.3,229.2 170.6,229.2 170.9,229.2 171.2,229.2 171.5,229.2 171.8,229.2 172.1,229.2 172.4,229.2 172.7,229.2 173.1,229.2 173.4,229.2 173.7,229.3 174.0,229.3 174.3,229.3 174.6,229.3 174.9,229.3 175.2,229.3 175.5,229.3 175.8,229.3 176.2,229.3 176.5,229.3 176.8,229.3 177.1,229.3 177.4,229.3 177.7,229.3 178.0,229.3 178.3,229.3 178.6,229.3 178.9,229.3 179.3,229.3 179.6,229.3 179.9,229.3 180.2,229.3 180.5,229.3 180.8,229.3 181.1,229.4 181.4,229.4 181.7,229.4 182.0,229.4 182.4,229.4 182.7,229.4 183.0,229.4 183.3,229.4 183.6,229.4 183.9,229.4 184.2,229.4 184.5,229.4 184.8,229.4 185.1,229.4 185.5,229.4 185.8,229.4 186.1,229.4 186.4,229.4 186.7,229.4 187.0,229.4 187.3,229.4 187.6,229.4 187.9,229.4 188.3,229.4 188.6,229.4 188.9,229.4 189.2,229.4 189.5,229.4 189.8,229.5 190.1,229.5 190.4,229.5 190.7,229.5 191.0,229.5 191.4,229.5 191.7,229.5 192.0,229.5 192.3,229.5 192.6,229.5 192.9,229.5 193.2,229.5 193.5,229.5 193.8,229.5 194.1,229.5 194.5,229.5 194.8,229.5 195.1,229.5 195.4,229.5 195.7,229.5 196.0,229.5 196.3,229.5 196.6,229.5 196.9,229.5 197.2,229.5 197.6,229.5 197.9,229.5 198.2,229.5 198.5,229.5 198.8,229.5 199.1,229.5 199.4,229.5 199.7,229.5 200.0,229.5 200.3,229.5 200.7,229.5 201.0,229.5 201.3,229.5 201.6,229.6 201.9,229.6 202.2,229.6 202.5,229.6 202.8,229.6 203.1,229.6 203.4,229.6 203.8,229.6 204.1,229.6 204.4,229.6 204.7,229.6 205.0,229.6 205.3,229.6 205.6,229.6 205.9,229.6 206.2,229.6 206.5,229.6 206.9,229.6 207.2,229.6 207.5,229.6 207.8,229.6 208.1,229.6 208.4,229.6 208.7,229.6 209.0,229.6 209.3,229.6 209.6,229.6 210.0,229.6 210.3,229.6 210.6,229.6 210.9,229.6 211.2,229.6 211.5,229.6 211.8,229.6 212.1,229.6 212.4,229.6 212.8,229.6 213.1,229.6 213.4,229.6 213.7,229.6 214.0,229.6 214.3,229.6 214.6,229.6 214.9,229.6 215.2,229.6 215.5,229.6 215.9,229.6 216.2,229.6 216.5,229.6" stroke="#2ca02c" stroke-width="1.0" stroke-opacity="1"/>
<polyline points="109.6,216.4 109.6,217.0 109.7,217.5 109.8,218.0 109.9,218.4 109.9,218.8 110.0,219.1 110.1,219.3 110.2,219.6 110.3,219.8 110.3,220.0 110.4,220.2 110.5,220.3 110.6,220.5 110.6,220.6 110.7,220.8 110.8,220.9 110.9,221.0 111.0,221.1 111.0,221.2 111.3,221.6 111.6,221.9 112.0,222.2 112.3,222.5 112.6,222.7 112.9,222.9 113.2,223.1 113.5,223.3 113.8,223.5 114.1,223.7 114.4,223.8 114.8,223.9 115.1,224.1 115.4,224.2 115.7,224.3 116.0,224.4 116.3,224.6 116.6,224.7 116.9,224.8 117.2,224.9 117.5,225.0 117.9,225.1 118.2,225.2 118.5,225.2 118.8,225.3 119.1,225.4 119.4,225.5 119.7,225.5 120.0,225.6 120.3,225.7 120.6,225.7 121.0,225.8 121.3,225.8 121.6,225.9 121.9,225.9 122.2,226.0 122.5,226.0 122.8,226.1 123.1,226.1 123.4,226.2 123.7,226.2 124.1,226.2 124.4,226.3 124.7,226.3 125.0,226.4 125.3,226.4 125.6,226.4 125.9,226.5 126.2,226.5 126.5,226.5 126.8,226.6 127.2,226.6 127.5,226.7 127.8,226.7 128.1,226.7 128.4,226.8 128.7,226.8 129.0,226.8 129.3,226.9 129.6,226.9 129.9,226.9 130.3,227.0 130.6,227.0 130.9,227.0 131.2,227.1 131.5,227.1 131.8,227.1 132.1,227.1 132.4,227.2 132.7,227.2 133.0,227.2 133.4,227.3 133.7,227.3 134.0,227.3 134.3,227.4 134.6,227.4 134.9,227.4 135.2,227.4 135.5,227.5 135.8,227.5 136.1,227.5 136.5,227.5 136.8,227.6 137.1,227.6 137.4,227.6 137.7,227.6 138.0,227.7 138.3,227.7 138.6,227.7 138.9,227.7 139.3,227.8 139.6,227.8 139.9,227.8 140.2,227.8 140.5,227.8 140.8,227.9 141.1,227.9 141.4,227.9 141.7,227.9 142.0,227.9 142.4,227.9 142.7,228.0 143.0,228.0 143.3,228.0 143.6,228.0 143.9,228.0 144.2,228.1 144.5,228.1 144.8,228.1 145.1,228.1 145.5,228.1 145.8,228.1 146.1,228.2 146.4,228.2 146.7,228.2 147.0,228.2 147.3,228.2 147.6,228.3 147.9,228.3 148.2,228.3 148.6,228.3 148.9,228.3 149.2,228.3 149.5,228.4 149.8,228.4 150.1,228.4 150.4,228.4 150.7,228.4 151.0,228.4 151.3,228.4 151.7,228.5 152.0,228.5 152.3,228.5 152.6,228.5 152.9,228.5 153.2,228.5 153.5,228.6 153.8,228.6 154.1,228.6 154.4,228.6 154.8,228.6 155.1,228.6 155.4,228.6 155.7,228.6 156.0,228.7 156.3,228.7 156.6,228.7 156.9,228.7 157.2,228.7 157.5,228.7 157.9,228.7 158.2,228.7 158.5,228.7 158.8,228.8 159.1,228.8 159.4,228.8 159.7,228.8 160.0,228.8 160.3,228.8 160.6,228.8 161.0,228.8 161.3,228.8 161.6,228.8 161.9,228.9 162.2,228.9 162.5,228.9 162.8,228.9 163.1,228.9 163.4,228.9 163.8,228.9 164.1,228.9 164.4,228.9 164.7,228.9 165.0,228.9 165.3,228.9 165.6,228.9 165.9,228.9 166.2,228.9 166.5,228.9 166.9,229.0 167.2,229.0 167.5,229.0 167.8,229.0 168.1,229.0 168.4,229.0 168.7,229.0 169.0,229.0 169.3,229.0 169.6,229.0 170.0,229.0 170.3,229.0 170.6,229.0 170.9,229.0 171.2,229.0 171.5,229.0 171.8,229.0 172.1,229.1 172.4,229.1 172.7,229.1 173.1,229.1 173.4,229.1 173.7,229.1 174.0,229.1 174.3,229.1 174.6,229.1 174.9,229.1 175.2,229.1 175.5,229.1 175.8,229.1 176.2,229.1 176.5,229.1 176.8,229.1 177.1,229.1 177.4,229.1 177.7,229.1 178.0,229.2 178.3,229.2 178.6,229.2 178.9,229.2 179.3,229.2 179.6,229.2 179.9,229.2 180.2,229.2 180.5,229.2 180.8,229.2 181.1,229.2 181.4,229.2 181.7,229.2 182.0,229.2 182.4,229.2 182.7,229.2 183.0,229.2 183.3,229.2 183.6,229.2 183.9,229.2 184.2,229.2 184.5,229.3 184.8,229.3 185.1,229.3 185.5,229.3 185.8,229.3 186.1,229.3 186.4,229.3 186.7,229.3 187.0,229.3 187.3,229.3 187.6,229.3 187.9,229.3 188.3,229.3 188.6,229.3 188.9,229.3 189.2,229.3 189.5,229.3 189.8,229.3 190.1,229.3 190.4,229.3 190.7,229.3 191.0,229.3 191.4,229.3 191.7,229.3 192.0,229.4 192.3,229.4 192.6,229.4 192.9,229.4 193.2,229.4 193.5,229.4 193.8,229.4 194.1,229.4 194.5,229.4 194.8,229.4 195.1,229.4 195.4,229.4 195.7,229.4 196.0,229.4 196.3,229.4 196.6,229.4 196.9,229.4 197.2,229.4 197.6,229.4 197.9,229.4 198.2,229.4 198.5,229.4 198.8,229.4 199.1,229.4 199.4,229.4 199.7,229.4 200.0,229.4 200.3,229.4 200.7,229.4 201.0,229.4 201.3,229.4 201.6,229.4 201.9,229.4 202.2,229.4 202.5,229.4 202.8,229.5 203.1,229.5 203.4,229.5 203.8,229.5 204.1,229.5 204.4,229.5 204.7,229.5 205.0,229.5 205.3,229.5 205.6,229.5 205.9,229.5 206.2,229.5 206.5,229.5 206.9,229.5 207.2,229.5 207.5,229.5 207.8,229.5 208.1,229.5 208.4,229.5 208.7,229.5 209.0,229.5 209.3,229.5 209.6,229.5 210.0,229.5 210.3,229.5 210.6,229.5 210.9,229.5 211.2,229.5 211.5,229.5 211.8,229.5 212.1,229.5 212.4,229.5 212.8,229.5 213.1,229.5 213.4,229.5 213.7,229.5 214.0,229.5 214.3,229.5 214.6,229.5 214.9,229.5 215.2,229.5 215.5,229.5 215.9,229.5 216.2,229.5 216.5,229.5" stroke="#d62728" stroke-width="0.9" stroke-opacity="1"/>
<polyline points="109.6,204.6 109.6,205.3 109.7,205.9 109.8,206.5 109.9,207.1 109.9,207.6 110.0,208.1 110.1,208.6 110.2,209.0 110.3,209.4 110.3,209.8 110.4,210.1 110.5,210.4 110.6,210.8 110.6,211.1 110.7,211.4 110.8,211.7 110.9,211.9 111.0,212.2 111.0,212.5 111.3,213.4 111.6,214.2 112.0,214.9 112.3,215.5 112.6,216.1 112.9,216.5 113.2,217.0 113.5,217.4 113.8,217.7 114.1,218.1 114.4,218.4 114.8,218.7 115.1,219.0 115.4,219.3 115.7,219.6 116.0,219.8 116.3,220.0 116.6,220.2 116.9,220.4 117.2,220.6 117.5,220.8 117.9,221.0 118.2,221.2 118.5,221.4 118.8,221.5 119.1,221.7 119.4,221.8 119.7,221.9 120.0,222.1 120.3,222.2 120.6,222.3 121.0,222.4 121.3,222.5 121.6,222.6 121.9,222.7 122.2,222.8 122.5,222.9 122.8,223.0 123.1,223.1 123.4,223.2 123.7,223.3 124.1,223.4 124.4,223.5 124.7,223.5 125.0,223.6 125.3,223.7 125.6,223.8 125.9,223.9 126.2,223.9 126.5,224.0 126.8,224.1 127.2,224.1 127.5,224.2 127.8,224.3 128.1,224.3 128.4,224.4 128.7,224.5 129.0,224.5 129.3,224.6 129.6,224.7 129.9,224.7 130.3,224.8 130.6,224.8 130.9,224.9 131.2,225.0 131.5,225.0 131.8,225.1 132.1,225.1 132.4,225.2 132.7,225.3 133.0,225.3 133.4,225.4 133.7,225.4 134.0,225.5 134.3,225.5 134.6,225.6 134.9,225.6 135.2,225.7 135.5,225.7 135.8,225.8 136.1,225.8 136.5,225.9 136.8,225.9 137.1,225.9 137.4,226.0 137.7,226.0 138.0,226.1 138.3,226.1 138.6,226.1 138.9,226.2 139.3,226.2 139.6,226.3 139.9,226.3 140.2,226.3 140.5,226.4 140.8,226.4 141.1,226.4 141.4,226.5 141.7,226.5 142.0,226.5 142.4,226.5 142.7,226.6 143.0,226.6 143.3,226.6 143.6,226.7 143.9,226.7 144.2,226.7 144.5,226.8 144.8,226.8 145.1,226.8 145.5,226.9 145.8,226.9 146.1,226.9 146.4,226.9 146.7,227.0 147.0,227.0 147.3,227.0 147.6,227.1 147.9,227.1 148.2,227.1 148.6,227.1 148.9,227.2 149.2,227.2 149.5,227.2 149.8,227.3 150.1,227.3 150.4,227.3 150.7,227.3 151.0,227.4 151.3,227.4 151.7,227.4 152.0,227.4 152.3,227.5 152.6,227.5 152.9,227.5 153.2,227.5 153.5,227.5 153.8,227.6 154.1,227.6 154.4,227.6 154.8,227.6 155.1,227.7 155.4,227.7 155.7,227.7 156.0,227.7 156.3,227.7 156.6,227.8 156.9,227.8 157.2,227.8 157.5,227.8 157.9,227.8 158.2,227.8 158.5,227.9 158.8,227.9 159.1,227.9 159.4,227.9 159.7,227.9 160.0,227.9 160.3,228.0 160.6,228.0 161.0,228.0 161.3,228.0 161.6,228.0 161.9,228.0 162.2,228.0 162.5,228.0 162.8,228.1 163.1,228.1 163.4,228.1 163.8,228.1 164.1,228.1 164.4,228.1 164.7,228.1 165.0,228.1 165.3,228.1 165.6,228.1 165.9,228.2 166.2,228.2 166.5,228.2 166.9,228.2 167.2,228.2 167.5,228.2 167.8,228.2 168.1,228.2 168.4,228.2 168.7,228.2 169.0,228.2 169.3,228.3 169.6,228.3 170.0,228.3 170.3,228.3 170.6,228.3 170.9,228.3 171.2,228.3 171.5,228.3 171.8,228.3 172.1,228.3 172.4,228.3 172.7,228.4 173.1,228.4 173.4,228.4 173.7,228.4 174.0,228.4 174.3,228.4 174.6,228.4 174.9,228.4 175.2,228.4 175.5,228.4 175.8,228.4 176.2,228.4 176.5,228.4 176.8,228.5 177.1,228.5 177.4,228.5 177.7,228.5 178.0,228.5 178.3,228.5 178.6,228.5 178.9,228.5 179.3,228.5 179.6,228.5 179.9,228.5 180.2,228.5 180.5,228.5 180.8,228.6 181.1,228.6 181.4,228.6 181.7,228.6 182.0,228.6 182.4,228.6 182.7,228.6 183.0,228.6 183.3,228.6 183.6,228.6 183.9,228.6 184.2,228.6 184.5,228.6 184.8,228.6 185.1,228.6 185.5,228.7 185.8,228.7 186.1,228.7 186.4,228.7 186.7,228.7 187.0,228.7 187.3,228.7 187.6,228.7 187.9,228.7 188.3,228.7 188.6,228.7 188.9,228.7 189.2,228.7 189.5,228.7 189.8,228.7 190.1,228.7 190.4,228.8 190.7,228.8 191.0,228.8 191.4,228.8 191.7,228.8 192.0,228.8 192.3,228.8 192.6,228.8 192.9,228.8 193.2,228.8 193.5,228.8 193.8,228.8 194.1,228.8 194.5,228.8 194.8,228.8 195.1,228.8 195.4,228.8 195.7,228.8 196.0,228.8 196.3,228.8 196.6,228.9 196.9,228.9 197.2,228.9 197.6,228.9 197.9,228.9 198.2,228.9 198.5,228.9 198.8,228.9 199.1,228.9 199.4,228.9 199.7,228.9 200.0,228.9 200.3,228.9 200.7,228.9 201.0,228.9 201.3,228.9 201.6,228.9 201.9,228.9 202.2,228.9 202.5,228.9 202.8,228.9 203.1,228.9 203.4,228.9 203.8,228.9 204.1,228.9 204.4,228.9 204.7,228.9 205.0,228.9 205.3,229.0 205.6,229.0 205.9,229.0 206.2,229.0 206.5,229.0 206.9,229.0 207.2,229.0 207.5,229.0 207.8,229.0 208.1,229.0 208.4,229.0 208.7,229.0 209.0,229.0 209.3,229.0 209.6,229.0 210.0,229.0 210.3,229.0 210.6,229.0 210.9,229.0 211.2,229.0 211.5,229.0 211.8,229.0 212.1,229.0 212.4,229.0 212.8,229.0 213.1,229.0 213.4,229.0 213.7,229.0 214.0,229.0 214.3,229.0 214.6,229.0 214.9,229.0 215.2,229.0 215.5,229.0 215.9,229.0 216.2,229.0 216.5,229.0" stroke="#ff7f0e" stroke-width="1.0" stroke-opacity="1"/>
</g>
<line x1="101.3" y1="228.61" x2="102.5" y2="228.61" stroke="#999" stroke-width="0.5"/>
<line x1="101.3" y1="223.47" x2="102.5" y2="223.47" stroke="#999" stroke-width="0.5"/>
<line x1="101.3" y1="219.82" x2="102.5" y2="219.82" stroke="#999" stroke-width="0.5"/>
<line x1="101.3" y1="216.99" x2="102.5" y2="216.99" stroke="#999" stroke-width="0.5"/>
<line x1="101.3" y1="214.68" x2="102.5" y2="214.68" stroke="#999" stroke-width="0.5"/>
<line x1="101.3" y1="212.72" x2="102.5" y2="212.72" stroke="#999" stroke-width="0.5"/>
<line x1="101.3" y1="211.03" x2="102.5" y2="211.03" stroke="#999" stroke-width="0.5"/>
<line x1="101.3" y1="209.54" x2="102.5" y2="209.54" stroke="#999" stroke-width="0.5"/>
<line x1="100.3" y1="208.2" x2="102.5" y2="208.2" stroke="#666" stroke-width="0.5"/>
<line x1="101.3" y1="199.41" x2="102.5" y2="199.41" stroke="#999" stroke-width="0.5"/>
<line x1="101.3" y1="194.27" x2="102.5" y2="194.27" stroke="#999" stroke-width="0.5"/>
<line x1="101.3" y1="190.62" x2="102.5" y2="190.62" stroke="#999" stroke-width="0.5"/>
<line x1="101.3" y1="187.79" x2="102.5" y2="187.79" stroke="#999" stroke-width="0.5"/>
<line x1="101.3" y1="185.48" x2="102.5" y2="185.48" stroke="#999" stroke-width="0.5"/>
<line x1="101.3" y1="183.52" x2="102.5" y2="183.52" stroke="#999" stroke-width="0.5"/>
<line x1="101.3" y1="181.83" x2="102.5" y2="181.83" stroke="#999" stroke-width="0.5"/>
<line x1="101.3" y1="180.34" x2="102.5" y2="180.34" stroke="#999" stroke-width="0.5"/>
<line x1="100.3" y1="179" x2="102.5" y2="179" stroke="#666" stroke-width="0.5"/>
<line x1="101.3" y1="170.21" x2="102.5" y2="170.21" stroke="#999" stroke-width="0.5"/>
<line x1="101.3" y1="165.07" x2="102.5" y2="165.07" stroke="#999" stroke-width="0.5"/>
<line x1="101.3" y1="161.42" x2="102.5" y2="161.42" stroke="#999" stroke-width="0.5"/>
<line x1="101.3" y1="158.59" x2="102.5" y2="158.59" stroke="#999" stroke-width="0.5"/>
<line x1="101.3" y1="156.28" x2="102.5" y2="156.28" stroke="#999" stroke-width="0.5"/>
<line x1="101.3" y1="154.32" x2="102.5" y2="154.32" stroke="#999" stroke-width="0.5"/>
<line x1="101.3" y1="152.63" x2="102.5" y2="152.63" stroke="#999" stroke-width="0.5"/>
<line x1="101.3" y1="151.14" x2="102.5" y2="151.14" stroke="#999" stroke-width="0.5"/>
<line x1="100.3" y1="149.8" x2="102.5" y2="149.8" stroke="#666" stroke-width="0.5"/>
<line x1="107.93" y1="234.2" x2="107.93" y2="236.2" stroke="#666" stroke-width="0.5"/>
<text x="107.93" y="242.2" font-size="7.6" text-anchor="middle" fill="#262626">0</text>
<line x1="138.94" y1="234.2" x2="138.94" y2="236.2" stroke="#666" stroke-width="0.5"/>
<text x="138.94" y="242.2" font-size="7.6" text-anchor="middle" fill="#262626">200</text>
<line x1="169.95" y1="234.2" x2="169.95" y2="236.2" stroke="#666" stroke-width="0.5"/>
<text x="169.95" y="242.2" font-size="7.6" text-anchor="middle" fill="#262626">400</text>
<line x1="200.97" y1="234.2" x2="200.97" y2="236.2" stroke="#666" stroke-width="0.5"/>
<text x="200.97" y="242.2" font-size="7.6" text-anchor="middle" fill="#262626">600</text>
<text x="101.6" y="152.7" font-size="6.2" text-anchor="end" fill="#505050" letter-spacing="0.6">10<tspan font-size="4.6" dy="-3.4">1</tspan></text>
<text x="101.6" y="181.9" font-size="6.2" text-anchor="end" fill="#505050" letter-spacing="0.6">10<tspan font-size="4.6" dy="-3.4">0</tspan></text>
<text x="101.2" y="211.4" font-size="7.6" text-anchor="end" fill="#3a3a3a">10<tspan font-size="5.0" dy="-3.0">−1</tspan></text>
<text x="151.2" y="249.8" font-size="7.8" fill="#262626" textLength="22" lengthAdjust="spacingAndGlyphs">Epochs</text>
<text transform="translate(84.8,192) rotate(-90)" x="-17.5" font-size="6.6" fill="#262626" textLength="35" lengthAdjust="spacingAndGlyphs">Total Loss</text>
<text x="139.3" y="147.8" font-size="9.2" fill="#262626" textLength="46.2" lengthAdjust="spacingAndGlyphs">Training Loss</text>
<rect x="133.2" y="153" width="87.2" height="38.4" rx="1.5" fill="#fff" fill-opacity="0.85" stroke="#dedede" stroke-width="0.6"/>
<line x1="135.6" y1="157.9" x2="148.6" y2="157.9" stroke="#1f77b4" stroke-opacity="0.6" stroke-width="1.2"/>
<text x="152.9" y="160.3" font-size="7.0" fill="#262626" textLength="63.8" lengthAdjust="spacingAndGlyphs">DenseRes Validation Loss</text>
<line x1="135.6" y1="167.2" x2="148.6" y2="167.2" stroke="#ff7f0e" stroke-opacity="0.6" stroke-width="1.2"/>
<text x="152.9" y="169.6" font-size="7.0" fill="#262626" textLength="59.0" lengthAdjust="spacingAndGlyphs">DenseRes Training Loss</text>
<line x1="135.6" y1="176.5" x2="148.6" y2="176.5" stroke="#2ca02c" stroke-opacity="0.6" stroke-width="1.2"/>
<text x="152.9" y="178.9" font-size="7.0" fill="#262626" textLength="63.0" lengthAdjust="spacingAndGlyphs">TransRes Validation Loss</text>
<line x1="135.6" y1="185.8" x2="148.6" y2="185.8" stroke="#d62728" stroke-opacity="0.6" stroke-width="1.2"/>
<text x="152.9" y="188.2" font-size="7.0" fill="#262626" textLength="58.7" lengthAdjust="spacingAndGlyphs">TransRes Training Loss</text>
<line x1="201" y1="229.9" x2="156.4" y2="214.3" stroke="#8a8a8a" stroke-width="0.5"/>
<line x1="201" y1="228.4" x2="156.4" y2="195.5" stroke="#8a8a8a" stroke-width="0.5"/>
<line x1="216.6" y1="228.4" x2="201.7" y2="195.5" stroke="#8a8a8a" stroke-width="0.5"/>
<line x1="216.6" y1="229.9" x2="201.7" y2="214.3" stroke="#8a8a8a" stroke-width="0.5"/>
<rect x="201" y="228.4" width="15.6" height="1.5" fill="none" stroke="#8a8a8a" stroke-width="0.5"/>
<rect x="156.4" y="195.5" width="45.3" height="18.8" fill="#fff" stroke="#8f8f8f" stroke-width="0.7"/>
<clipPath id="clip102i"><rect x="156.4" y="195.5" width="45.3" height="18.8"/></clipPath>
<g clip-path="url(#clip102i)" fill="none">
<polyline points="158.2,204.7 158.6,204.7 159.0,204.5 159.3,204.6 159.7,204.5 160.1,204.3 160.5,204.4 160.9,204.6 160.7,204.5 161.0,203.3 161.3,204.5 161.2,204.4 161.6,204.8 162.0,204.3 162.4,204.4 162.7,204.7 163.1,204.4 163.5,204.3 163.9,204.3 164.3,204.4 164.6,204.7 165.0,204.6 165.4,204.6 165.2,204.5 165.5,203.0 165.8,204.5 165.8,204.4 166.2,204.6 166.5,204.5 166.9,204.4 167.3,204.4 167.7,204.5 167.7,204.7 168.0,203.9 168.3,204.7 168.1,204.7 168.4,204.5 168.8,204.6 169.2,204.8 169.6,204.4 169.9,204.3 170.3,204.7 170.7,204.6 171.1,204.5 171.5,204.5 171.8,204.5 172.2,204.6 172.6,204.5 173.0,204.6 173.4,204.3 173.7,204.4 173.6,204.4 173.8,196.1 174.1,204.4 174.1,204.5 174.5,204.4 174.9,204.6 175.3,204.5 175.6,204.4 176.0,204.5 176.4,204.4 176.8,204.3 177.1,204.3 177.5,204.4 177.9,204.4 178.3,204.5 178.7,204.6 179.0,204.6 179.0,204.7 179.3,203.2 179.6,204.7 179.4,204.8 179.8,204.7 180.2,204.5 180.6,204.8 180.9,204.7 181.3,204.4 181.7,204.6 181.7,204.6 182.0,203.6 182.3,204.6 182.1,204.7 182.4,204.5 182.8,204.7 183.2,204.6 183.6,204.6 184.0,204.5 184.3,204.6 184.7,204.5 185.1,204.6 185.5,204.3 185.9,204.6 186.2,204.7 186.3,204.6 186.6,203.4 186.9,204.6 186.6,204.6 187.0,204.5 187.4,204.6 187.8,204.4 188.1,204.4 188.5,204.5 188.9,204.5 189.3,204.7 189.6,204.4 189.7,204.6 190.0,203.8 190.3,204.6 190.0,204.7 190.4,204.3 190.8,204.4 191.2,204.5 191.5,204.7 191.9,204.4 192.3,204.2 192.7,204.6 193.1,204.5 193.4,204.3 193.8,204.4 194.2,204.4 194.6,204.5 194.5,204.6 194.8,201.6 195.1,204.6 195.0,204.6 195.3,204.3 195.7,204.9 196.1,204.5 196.5,204.5 196.8,204.6 197.2,204.5 197.6,204.9 198.0,204.7 198.4,204.5 198.1,204.5 198.4,203.0 198.7,204.5 198.7,204.4 199.1,204.4 199.5,204.5" stroke="#1f77b4" stroke-width="0.6" stroke-opacity="0.85"/>
<polyline points="158.2,205.4 158.6,205.4 159.0,205.5 159.3,205.4 159.7,205.4 160.1,205.4 160.5,205.3 160.9,205.4 161.2,205.4 161.6,205.4 162.0,205.4 162.4,205.4 162.7,205.4 163.1,205.4 163.5,205.3 163.9,205.3 164.3,205.5 164.6,205.4 165.0,205.4 165.4,205.5 165.8,205.5 166.2,205.4 166.5,205.4 166.9,205.4 167.3,205.4 167.7,205.4 168.1,205.4 168.4,205.4 168.8,205.4 169.2,205.4 169.6,205.5 169.9,205.5 170.3,205.3 170.7,205.4 171.1,205.3 171.5,205.3 171.8,205.4 172.2,205.4 172.6,205.4 173.0,205.5 173.4,205.4 173.7,205.4 174.1,205.4 174.5,205.5 174.9,205.4 175.3,205.3 175.6,205.4 176.0,205.4 176.4,205.5 176.8,205.4 177.1,205.4 177.5,205.5 177.9,205.4 178.3,205.4 178.7,205.4 179.0,205.4 179.4,205.4 179.8,205.4 180.2,205.3 180.6,205.4 180.9,205.4 181.3,205.5 181.7,205.4 182.1,205.4 182.4,205.5 182.8,205.4 183.2,205.4 183.6,205.4 184.0,205.5 184.3,205.4 184.7,205.4 185.1,205.5 185.5,205.4 185.9,205.4 186.2,205.4 186.6,205.4 187.0,205.5 187.4,205.4 187.8,205.3 188.1,205.4 188.5,205.4 188.9,205.4 189.3,205.4 189.6,205.4 190.0,205.4 190.4,205.4 190.8,205.4 191.2,205.4 191.5,205.4 191.9,205.4 192.3,205.4 192.7,205.3 193.1,205.4 193.4,205.4 193.8,205.5 194.2,205.4 194.6,205.4 195.0,205.4 195.3,205.4 195.7,205.4 196.1,205.4 196.5,205.4 196.8,205.3 197.2,205.4 197.6,205.3 198.0,205.4 198.4,205.4 198.7,205.4 199.1,205.3 199.5,205.4" stroke="#ff7f0e" stroke-width="0.9" stroke-opacity="1"/>
<polyline points="158.2,212.3 158.6,212.4 159.0,212.2 159.3,212.4 159.7,212.3 160.1,212.2 160.5,212.3 159.9,212.3 160.5,210.5 161.1,212.3 160.9,212.3 161.2,212.3 161.0,212.3 161.5,211.1 162.0,212.3 161.6,212.2 162.0,212.3 162.4,212.3 162.7,212.3 163.1,212.2 163.5,212.3 163.9,212.3 164.3,212.4 164.6,212.3 165.0,212.4 165.4,212.3 165.8,212.2 166.2,212.3 166.5,212.2 166.9,212.3 167.3,212.4 167.7,212.3 168.1,212.3 168.4,212.5 168.8,212.3 169.2,212.3 169.6,212.4 169.9,212.3 170.3,212.3 170.7,212.3 171.1,212.1 171.5,212.4 171.8,212.2 172.2,212.2 172.6,212.3 173.0,212.3 173.4,212.2 173.7,212.3 174.1,212.2 174.5,212.2 174.9,212.2 175.3,212.2 175.6,212.3 176.0,212.3 176.4,212.3 176.8,212.4 177.1,212.3 177.5,212.2 177.9,212.3 178.3,212.4 178.7,212.3 179.0,212.3 179.4,212.3 179.8,212.3 180.2,212.3 180.6,212.3 180.9,212.3 181.3,212.2 181.7,212.2 182.1,212.3 182.4,212.4 182.8,212.4 183.2,212.3 183.6,212.2 184.0,212.3 184.3,212.3 184.7,212.2 185.1,212.4 185.5,212.3 185.9,212.4 186.2,212.2 186.6,212.2 187.0,212.4 187.4,212.2 187.8,212.2 188.1,212.2 188.5,212.2 188.9,212.1 189.3,212.3 189.6,212.4 190.0,212.3 190.4,212.3 190.8,212.3 191.2,212.4 191.5,212.3 191.9,212.4 192.3,212.2 192.7,212.3 193.1,212.2 193.4,212.3 193.8,212.3 194.2,212.2 194.6,212.3 195.0,212.4 195.3,212.3 195.7,212.3 196.1,212.2 196.5,212.2 196.8,212.2 197.2,212.3 197.6,212.4 198.0,212.3 198.4,212.3 198.7,212.2 199.1,212.3 199.5,212.3" stroke="#2ca02c" stroke-width="0.8" stroke-opacity="1"/>
<polyline points="158.2,212.8 158.6,212.8 159.0,212.9 159.3,212.9 159.7,213.0 160.1,212.9 160.5,212.8 160.9,212.9 161.2,213.0 161.6,212.9 162.0,212.9 162.4,212.9 162.7,213.0 163.1,212.9 163.5,212.9 163.9,212.9 164.3,212.9 164.6,212.9 165.0,212.9 165.4,213.0 165.8,212.9 166.2,212.9 166.5,212.9 166.9,212.9 167.3,212.9 167.7,212.9 168.1,212.9 168.4,212.9 168.8,212.9 169.2,213.0 169.6,212.9 169.9,212.9 170.3,213.0 170.7,212.9 171.1,212.8 171.5,212.9 171.8,212.9 172.2,212.9 172.6,212.9 173.0,213.0 173.4,212.9 173.7,212.9 174.1,212.9 174.5,212.9 174.9,212.9 175.3,213.0 175.6,212.9 176.0,213.0 176.4,212.9 176.8,212.9 177.1,213.0 177.5,212.9 177.9,213.0 178.3,212.9 178.7,212.9 179.0,212.9 179.4,212.9 179.8,212.9 180.2,212.9 180.6,212.9 180.9,213.0 181.3,212.9 181.7,212.9 182.1,212.9 182.4,212.8 182.8,212.8 183.2,213.0 183.6,213.0 184.0,212.9 184.3,212.9 184.7,212.9 185.1,212.8 185.5,212.9 185.9,212.8 186.2,212.9 186.6,212.9 187.0,212.9 187.4,213.0 187.8,213.0 188.1,212.9 188.5,213.0 188.9,212.9 189.3,212.9 189.6,212.9 190.0,213.0 190.4,212.9 190.8,212.9 191.2,212.9 191.5,212.8 191.9,212.9 192.3,213.0 192.7,212.9 193.1,212.9 193.4,212.9 193.8,212.9 194.2,213.0 194.6,213.0 195.0,213.0 195.3,213.0 195.7,212.9 196.1,212.9 196.5,212.9 196.8,212.9 197.2,212.9 197.6,213.0 198.0,213.0 198.4,212.9 198.7,212.9 199.1,212.8 199.5,212.9" stroke="#d62728" stroke-width="0.8" stroke-opacity="0.9"/>
</g>
<clipPath id="clip248"><rect x="248.4" y="149.9" width="120" height="83.9"/></clipPath>
<rect x="248.4" y="149.9" width="120" height="83.9" fill="#fff" stroke="#c4c4c4" stroke-width="0.8"/>
<g clip-path="url(#clip248)" fill="none" stroke-linejoin="round">
<polyline points="253.9,122.2 253.9,159.4 254.0,176.5 254.1,179.4 254.2,181.2 254.2,182.4 254.3,183.2 254.4,184.1 254.5,184.9 254.6,185.6 254.6,186.3 254.7,187.0 254.8,187.7 254.9,188.3 254.9,188.9 255.0,189.4 255.1,189.9 255.2,190.4 255.3,190.9 255.3,191.3 255.4,191.8 255.5,192.2 255.6,192.5 255.6,192.9 255.7,193.2 255.8,193.6 255.9,193.9 256.0,194.2 256.0,194.5 256.1,194.7 256.2,195.0 256.3,195.3 256.3,195.5 256.4,195.8 256.5,196.0 256.6,196.3 256.7,196.5 256.7,196.7 256.8,196.9 256.9,197.1 257.0,197.3 257.3,198.0 257.6,198.7 257.9,199.3 258.2,199.8 258.5,200.4 258.8,200.9 259.2,201.5 259.5,202.1 259.8,202.6 260.1,203.1 260.4,203.6 260.7,204.1 261.0,204.6 261.3,205.0 261.6,205.4 262.0,205.8 262.3,206.1 262.6,206.4 262.9,206.7 263.2,207.0 263.5,207.2 263.8,207.5 264.1,207.7 264.5,208.0 264.8,208.2 265.1,208.4 265.4,208.6 265.7,208.8 266.0,209.1 266.3,209.3 266.6,209.5 266.9,209.7 267.3,209.9 267.6,210.2 267.9,210.4 268.2,210.7 268.5,210.9 268.8,211.2 269.1,211.5 269.4,211.7 269.8,212.0 270.1,212.3 270.4,212.5 270.7,212.8 271.0,213.1 271.3,213.3 271.6,213.5 271.9,213.8 272.2,214.0 272.6,214.2 272.9,214.4 273.2,214.6 273.5,214.8 273.8,215.0 274.1,215.2 274.4,215.4 274.7,215.5 275.0,215.7 275.4,215.9 275.7,216.1 276.0,216.3 276.3,216.4 276.6,216.6 276.9,216.8 277.2,216.9 277.5,217.1 277.9,217.3 278.2,217.4 278.5,217.6 278.8,217.7 279.1,217.9 279.4,218.0 279.7,218.2 280.0,218.3 280.3,218.5 280.7,218.6 281.0,218.8 281.3,218.9 281.6,219.0 281.9,219.2 282.2,219.3 282.5,219.4 282.8,219.6 283.2,219.7 283.5,219.8 283.8,220.0 284.1,220.1 284.4,220.2 284.7,220.3 285.0,220.5 285.3,220.6 285.6,220.7 286.0,220.8 286.3,220.9 286.6,221.1 286.9,221.2 287.2,221.3 287.5,221.4 287.8,221.5 288.1,221.6 288.5,221.7 288.8,221.8 289.1,221.9 289.4,222.0 289.7,222.1 290.0,222.2 290.3,222.3 290.6,222.4 290.9,222.5 291.3,222.6 291.6,222.7 291.9,222.8 292.2,222.9 292.5,222.9 292.8,223.0 293.1,223.1 293.4,223.2 293.8,223.3 294.1,223.3 294.4,223.4 294.7,223.5 295.0,223.6 295.3,223.6 295.6,223.7 295.9,223.8 296.2,223.9 296.6,223.9 296.9,224.0 297.2,224.1 297.5,224.1 297.8,224.2 298.1,224.3 298.4,224.3 298.7,224.4 299.0,224.4 299.4,224.5 299.7,224.5 300.0,224.6 300.3,224.6 300.6,224.7 300.9,224.7 301.2,224.8 301.5,224.8 301.9,224.9 302.2,224.9 302.5,225.0 302.8,225.0 303.1,225.1 303.4,225.1 303.7,225.2 304.0,225.2 304.3,225.2 304.7,225.3 305.0,225.3 305.3,225.4 305.6,225.4 305.9,225.4 306.2,225.5 306.5,225.5 306.8,225.5 307.2,225.6 307.5,225.6 307.8,225.7 308.1,225.7 308.4,225.7 308.7,225.8 309.0,225.8 309.3,225.8 309.6,225.9 310.0,225.9 310.3,225.9 310.6,226.0 310.9,226.0 311.2,226.0 311.5,226.1 311.8,226.1 312.1,226.1 312.5,226.2 312.8,226.2 313.1,226.2 313.4,226.2 313.7,226.3 314.0,226.3 314.3,226.3 314.6,226.4 314.9,226.4 315.3,226.4 315.6,226.5 315.9,226.5 316.2,226.5 316.5,226.5 316.8,226.6 317.1,226.6 317.4,226.6 317.8,226.6 318.1,226.7 318.4,226.7 318.7,226.7 319.0,226.7 319.3,226.8 319.6,226.8 319.9,226.8 320.2,226.8 320.6,226.8 320.9,226.9 321.2,226.9 321.5,226.9 321.8,226.9 322.1,226.9 322.4,227.0 322.7,227.0 323.0,227.0 323.4,227.0 323.7,227.0 324.0,227.1 324.3,227.1 324.6,227.1 324.9,227.1 325.2,227.1 325.5,227.1 325.9,227.2 326.2,227.2 326.5,227.2 326.8,227.2 327.1,227.2 327.4,227.2 327.7,227.3 328.0,227.3 328.3,227.3 328.7,227.3 329.0,227.3 329.3,227.3 329.6,227.4 329.9,227.4 330.2,227.4 330.5,227.4 330.8,227.4 331.2,227.4 331.5,227.5 331.8,227.5 332.1,227.5 332.4,227.5 332.7,227.5 333.0,227.5 333.3,227.6 333.6,227.6 334.0,227.6 334.3,227.6 334.6,227.6 334.9,227.6 335.2,227.6 335.5,227.6 335.8,227.7 336.1,227.7 336.5,227.7 336.8,227.7 337.1,227.7 337.4,227.7 337.7,227.7 338.0,227.8 338.3,227.8 338.6,227.8 338.9,227.8 339.3,227.8 339.6,227.8 339.9,227.8 340.2,227.8 340.5,227.9 340.8,227.9 341.1,227.9 341.4,227.9 341.8,227.9 342.1,227.9 342.4,227.9 342.7,227.9 343.0,227.9 343.3,227.9 343.6,228.0 343.9,228.0 344.2,228.0 344.6,228.0 344.9,228.0 345.2,228.0 345.5,228.0 345.8,228.0 346.1,228.0 346.4,228.0 346.7,228.1 347.0,228.1 347.4,228.1 347.7,228.1 348.0,228.1 348.3,228.1 348.6,228.1 348.9,228.1 349.2,228.1 349.5,228.1 349.9,228.1 350.2,228.1 350.5,228.2 350.8,228.2 351.1,228.2 351.4,228.2 351.7,228.2 352.0,228.2 352.3,228.2 352.7,228.2 353.0,228.2 353.3,228.2 353.6,228.2 353.9,228.2 354.2,228.2 354.5,228.3 354.8,228.3 355.2,228.3 355.5,228.3 355.8,228.3 356.1,228.3 356.4,228.3 356.7,228.3 357.0,228.3 357.3,228.3 357.6,228.3 358.0,228.3 358.3,228.3 358.6,228.3 358.9,228.3 359.2,228.3 359.5,228.4 359.8,228.4 360.1,228.4 360.5,228.4 360.8,228.4 361.1,228.4 361.4,228.4 361.7,228.4 362.0,228.4 362.3,228.4 362.6,228.4 362.9,228.4" stroke="#d62728" stroke-width="1.2" stroke-opacity="0.42"/>
<polyline points="254.3,175.9 254.4,178.0 254.5,179.2 254.6,181.5 254.6,184.2 254.7,186.2 254.8,187.2 254.9,189.2 254.9,189.9 255.0,191.0 255.1,191.4 255.2,192.7 255.3,193.5 255.3,193.7 255.4,194.6 255.5,194.9 255.6,195.4 255.6,195.8 255.7,196.4 255.8,196.8 255.9,197.7 256.0,197.7 256.0,197.9 256.1,198.9 256.2,199.1 256.3,199.5 256.3,199.6 256.4,200.1 256.5,200.3 256.6,200.3 256.7,200.9 256.7,201.2 256.8,201.5 256.9,201.9 257.0,201.5 257.3,203.0 257.6,203.6 257.9,204.7 258.2,205.7 258.5,206.5 258.8,207.1 259.2,208.3 259.5,208.8 259.8,209.8 260.1,210.5 260.4,210.7 260.7,211.2 261.0,212.1 261.3,212.8 261.6,213.2 262.0,213.3 262.3,213.5 262.6,214.1 262.9,214.5 263.2,215.2 263.5,215.4 263.8,215.9 264.1,216.0 264.5,216.7 264.8,216.5 265.1,216.9 265.4,216.8 265.7,217.2 266.0,217.6 266.3,217.7 266.6,218.0 266.9,217.6 267.3,218.1 267.6,218.5 267.9,218.3 268.2,218.3 268.5,218.4 268.8,218.5 269.1,218.7 269.4,219.2 269.8,219.0 270.1,219.0 270.4,218.9 270.7,219.0 271.0,219.9 271.3,219.3 271.6,219.5 271.9,219.5 272.2,219.7 272.6,219.7 272.9,219.9 273.2,220.3 273.5,219.8 273.8,220.2 274.1,220.2 274.4,220.4 274.7,220.1 275.0,220.5 275.4,220.2 275.7,220.1 276.0,220.3 276.3,220.4 276.6,220.5 276.9,220.7 277.2,221.2 277.5,220.7 277.9,221.1 278.2,221.1 278.5,221.0 278.8,221.0 279.1,221.4 279.4,221.5 279.7,221.3 280.0,221.4 280.3,221.5 280.7,221.3 281.0,221.7 281.3,221.8 281.6,222.2 281.9,221.5 282.2,221.7 282.5,222.0 282.8,221.9 283.2,222.0 283.5,222.1 283.8,222.1 284.1,222.2 284.4,222.4 284.7,221.9 285.0,222.5 285.3,221.9 285.6,222.9 286.0,222.8 286.3,222.5 286.6,222.9 286.9,222.7 287.2,222.9 287.5,223.0 287.8,223.0 288.1,222.9 288.5,223.1 288.8,223.0 289.1,223.0 289.4,222.9 289.7,222.7 290.0,223.7 290.3,223.5 290.6,223.0 290.9,223.5 291.3,223.5 291.6,223.0 291.9,223.3 292.2,223.6 292.5,224.1 292.8,224.0 293.1,224.1 293.4,223.9 293.8,224.1 294.1,223.6 294.4,224.1 294.7,224.2 295.0,223.7 295.3,224.1 295.6,224.5 295.9,224.6 296.2,224.5 296.6,224.1 296.9,224.2 297.2,224.2 297.5,224.7 297.8,224.2 298.1,224.2 298.4,224.0 298.7,224.5 299.0,224.6 299.4,224.4 299.7,224.4 300.0,224.6 300.3,225.0 300.6,224.3 300.9,224.7 301.2,224.8 301.5,224.8 301.9,225.1 302.2,225.0 302.5,224.9 302.8,225.2 303.1,225.2 303.4,225.0 303.7,225.0 304.0,224.7 304.3,225.0 304.7,224.8 305.0,224.8 305.3,225.0 305.6,224.7 305.9,224.9 306.2,225.0 306.5,225.2 306.8,225.1 307.2,225.3 307.5,225.6 307.8,225.5 308.1,225.0 308.4,224.9 308.7,225.1 309.0,225.1 309.3,224.9 309.6,225.0 310.0,225.0 310.3,225.3 310.6,225.8 310.9,225.9 311.2,225.2 311.5,225.4 311.8,225.2 312.1,225.1 312.5,225.5 312.8,225.6 313.1,225.4 313.4,225.8 313.7,225.5 314.0,225.9 314.3,225.5 314.6,225.9 314.9,225.6 315.3,225.7 315.6,225.9 315.9,225.4 316.2,225.5 316.5,225.7 316.8,225.7 317.1,225.8 317.4,225.6 317.8,225.5 318.1,225.8 318.4,225.9 318.7,225.6 319.0,226.1 319.3,226.0 319.6,226.1 319.9,226.1 320.2,225.7 320.6,226.4 320.9,225.7 321.2,226.0 321.5,226.1 321.8,226.0 322.1,226.0 322.4,225.8 322.7,225.9 323.0,226.0 323.4,226.3 323.7,225.8 324.0,226.2 324.3,226.1 324.6,226.1 324.9,225.9 325.2,226.0 325.5,225.6 325.9,226.1 326.2,226.2 326.5,226.0 326.8,226.2 327.1,226.2 327.4,225.9 327.7,226.3 328.0,226.0 328.3,226.8 328.7,225.9 329.0,226.0 329.3,226.0 329.6,226.2 329.9,226.5 330.2,226.2 330.5,226.1 330.8,226.7 331.2,226.5 331.5,226.2 331.8,226.2 332.1,225.9 332.4,226.2 332.7,226.7 333.0,226.0 333.3,225.9 333.6,226.3 334.0,225.7 334.3,226.6 334.6,225.9 334.9,226.1 335.2,226.2 335.5,226.6 335.8,226.4 336.1,225.8 336.5,225.9 336.8,226.4 337.1,225.8 337.4,226.2 337.7,226.1 338.0,226.5 338.3,226.6 338.6,225.7 338.9,226.4 339.3,226.5 339.6,226.1 339.9,226.2 340.2,226.0 340.5,226.3 340.8,226.5 341.1,226.7 341.4,226.7 341.8,226.3 342.1,226.2 342.4,226.6 342.7,225.7 343.0,226.0 343.3,226.5 343.6,226.9 343.9,226.2 344.2,226.4 344.6,226.1 344.9,226.4 345.2,226.4 345.5,226.2 345.8,226.5 346.1,226.4 346.4,226.5 346.7,226.4 347.0,226.1 347.4,226.4 347.7,226.6 348.0,226.2 348.3,226.8 348.6,226.5 348.9,226.3 349.2,226.4 349.5,226.3 349.9,226.2 350.2,226.7 350.5,226.7 350.8,226.3 351.1,226.4 351.4,226.4 351.7,226.6 352.0,226.8 352.3,226.3 352.7,226.5 353.0,226.5 353.3,226.6 353.6,226.8 353.9,226.2 354.2,226.0 354.5,226.4 354.8,226.1 355.2,226.9 355.5,226.3 355.8,226.4 356.1,226.5 356.4,226.5 356.7,226.4 357.0,226.5 357.3,226.7 357.6,226.4 358.0,227.0 358.3,226.6 358.6,225.9 358.9,226.7 359.2,226.1 359.5,226.6 359.8,227.1 360.1,226.8 360.5,226.2 360.8,226.3 361.1,226.5 361.4,226.9 361.7,226.3 362.0,226.8 362.3,226.6 362.6,226.5 362.9,226.5" stroke="#ff7f0e" stroke-width="0.9" stroke-opacity="0.45"/>
<polyline points="254.4,178.1 254.5,179.9 254.6,182.2 254.6,184.2 254.7,186.8 254.8,188.6 254.9,189.9 254.9,190.8 255.0,191.5 255.1,192.1 255.2,192.5 255.3,193.8 255.3,194.9 255.4,195.6 255.5,194.9 255.6,195.9 255.6,196.6 255.7,196.8 255.8,197.6 255.9,198.0 256.0,198.2 256.0,198.8 256.1,198.7 256.2,199.2 256.3,199.6 256.3,200.5 256.4,200.1 256.5,200.8 256.6,201.4 256.7,201.5 256.7,202.0 256.8,201.8 256.9,202.4 257.0,202.8 257.3,204.2 257.6,204.7 257.9,205.8 258.2,206.2 258.5,207.1 258.8,208.4 259.2,208.9 259.5,209.9 259.8,210.3 260.1,211.4 260.4,212.1 260.7,211.8 261.0,213.2 261.3,213.3 261.6,213.8 262.0,214.1 262.3,214.8 262.6,214.6 262.9,215.1 263.2,215.4 263.5,216.1 263.8,216.6 264.1,216.8 264.5,217.0 264.8,216.9 265.1,216.8 265.4,217.6 265.7,217.8 266.0,218.0 266.3,218.5 266.6,218.2 266.9,218.3 267.3,217.8 267.6,218.8 267.9,218.8 268.2,218.7 268.5,219.2 268.8,218.9 269.1,219.1 269.4,220.0 269.8,219.7 270.1,219.9 270.4,220.0 270.7,220.0 271.0,220.0 271.3,220.7 271.6,220.1 271.9,220.4 272.2,220.2 272.6,220.3 272.9,219.7 273.2,220.0 273.5,221.1 273.8,221.1 274.1,220.6 274.4,220.8 274.7,221.1 275.0,220.7 275.4,221.6 275.7,220.8 276.0,221.0 276.3,220.4 276.6,221.8 276.9,221.4 277.2,222.0 277.5,221.3 277.9,221.7 278.2,221.7 278.5,221.8 278.8,222.4 279.1,222.6 279.4,222.4 279.7,221.9 280.0,222.3 280.3,222.5 280.7,222.4 281.0,222.4 281.3,222.5 281.6,222.1 281.9,222.5 282.2,223.0 282.5,222.3 282.8,222.6 283.2,222.9 283.5,222.3 283.3,222.6 283.7,196.4 284.1,222.6 283.8,222.7 284.1,222.3 284.4,222.7 284.7,222.5 285.0,222.7 285.3,222.9 285.6,223.0 286.0,223.1 286.3,222.5 286.6,223.7 286.9,223.2 287.2,223.1 287.5,223.2 287.8,223.6 288.1,223.2 288.5,223.5 288.8,223.5 289.1,223.9 289.4,223.5 289.7,223.9 290.0,224.0 290.3,223.9 290.6,224.3 290.9,224.0 291.3,223.7 291.6,224.2 291.9,224.2 292.2,224.2 292.5,224.3 292.8,225.0 293.1,224.4 293.4,224.5 293.8,224.3 294.1,224.8 294.4,224.4 294.7,224.3 295.0,224.2 295.3,224.7 295.6,224.8 295.9,224.2 296.2,224.5 296.6,224.9 296.9,225.1 297.2,224.4 297.0,224.6 297.4,211.0 297.8,224.6 297.5,224.7 297.8,225.1 298.1,224.7 298.4,224.8 298.7,224.8 299.0,224.6 299.4,225.0 299.7,225.1 300.0,224.6 300.3,225.1 300.6,225.4 300.9,225.2 301.2,225.4 301.5,225.0 301.9,225.6 302.2,225.0 302.5,225.8 302.8,225.1 303.1,225.1 303.4,225.0 303.7,225.2 304.0,225.2 304.3,225.2 304.7,225.3 305.0,225.6 305.3,225.7 305.6,225.3 305.9,225.8 306.2,225.2 306.5,225.2 306.8,225.2 307.2,225.7 307.5,225.1 307.8,225.2 308.1,226.0 308.4,226.1 308.7,226.0 309.0,225.2 309.3,225.7 309.6,225.9 310.0,225.7 310.3,225.2 310.6,225.6 310.9,225.2 311.2,225.4 311.5,226.4 311.8,226.0 312.1,225.4 312.5,225.4 312.8,226.0 313.1,225.7 313.4,226.0 313.7,225.7 314.0,225.8 314.3,226.0 314.6,225.6 314.9,225.3 315.3,225.6 315.6,225.7 315.9,225.9 316.2,225.9 316.5,225.9 316.8,226.1 317.1,225.7 317.4,226.4 317.8,226.6 318.1,226.1 318.4,226.1 318.7,226.4 319.0,226.2 319.3,226.1 319.6,226.0 319.9,225.8 320.2,225.7 320.6,226.3 320.9,226.4 321.2,225.7 321.5,226.0 321.8,226.1 322.1,225.9 322.4,225.9 322.7,226.0 323.0,225.5 323.4,226.1 323.7,226.0 324.0,226.7 324.3,226.4 324.6,226.0 324.9,226.1 325.2,226.6 325.5,226.6 325.9,226.2 326.2,226.1 326.5,225.7 326.8,226.0 327.1,226.1 327.4,225.9 327.7,226.7 328.0,225.6 328.3,226.1 328.7,226.3 329.0,226.3 329.3,226.7 329.6,225.7 329.9,225.9 330.2,226.2 330.5,226.2 330.8,226.1 331.2,226.0 331.5,226.5 331.8,225.9 332.1,226.0 332.4,226.6 332.7,226.7 333.0,226.5 333.3,226.0 333.6,226.0 334.0,226.0 334.3,225.9 334.6,226.1 334.9,226.6 335.2,226.3 335.5,226.0 335.8,226.0 336.1,225.9 336.5,226.6 336.8,225.7 337.1,226.4 337.4,225.9 337.7,226.0 338.0,225.9 338.3,226.6 338.6,226.3 338.9,227.1 339.3,226.0 339.6,226.0 339.9,226.5 340.2,226.5 340.5,226.3 340.8,225.7 341.1,226.8 341.4,226.5 341.8,226.5 342.1,226.2 342.4,226.6 342.7,226.2 343.0,226.4 343.3,226.3 343.6,226.8 343.9,226.2 344.2,226.3 344.6,226.7 344.9,226.5 345.2,226.4 345.5,226.3 345.8,226.7 346.1,226.2 346.4,226.5 346.7,227.0 347.0,226.5 347.4,226.2 347.7,226.0 348.0,226.5 348.3,226.0 348.6,225.9 348.9,226.2 348.8,226.1 349.2,225.0 349.6,226.1 349.2,226.1 349.5,226.7 349.9,226.0 350.2,226.9 350.5,226.2 350.8,226.5 351.1,226.6 351.4,226.5 351.7,226.7 352.0,226.1 352.3,225.8 352.7,226.4 353.0,225.9 353.3,226.3 353.6,226.7 353.9,226.4 354.2,226.3 354.5,226.1 354.8,226.4 354.8,226.4 355.1,225.0 355.5,226.4 355.2,226.4 355.5,226.0 355.8,226.5 356.1,226.1 356.4,226.5 356.7,226.3 357.0,226.8 357.3,226.7 357.6,226.5 358.0,226.4 358.3,226.6 358.6,226.9 358.9,226.8 359.2,226.5 359.5,226.6 359.8,227.0 360.1,226.0 360.5,226.6 360.8,226.2 361.1,226.9 361.4,226.3 361.7,226.5 362.0,226.2 362.3,226.5 362.6,226.7 362.9,227.0" stroke="#1f77b4" stroke-width="0.8" stroke-opacity="0.5"/>
<polyline points="254.6,182.9 254.7,182.6 254.8,187.8 254.9,190.7 254.9,188.3 255.0,192.8 255.1,190.6 255.2,192.1 255.3,192.8 255.3,190.6 255.4,192.9 255.5,192.7 255.6,192.0 255.6,196.9 255.7,192.6 255.8,194.3 255.9,194.4 256.0,191.3 256.0,191.0 256.1,193.6 256.2,194.6 256.3,198.1 256.3,195.3 256.4,191.3 256.5,194.9 256.6,196.8 256.7,197.1 256.7,193.7 256.8,197.5 256.9,198.5 257.0,200.1 256.8,197.7 257.1,188.0 257.5,197.7 257.3,194.3 257.6,199.1 257.2,199.1 257.6,190.3 258.0,199.1 257.9,199.1 258.2,196.7 258.5,198.0 258.8,200.1 259.2,202.0 259.5,202.2 259.3,202.6 259.7,195.0 260.1,202.6 259.8,202.8 260.1,203.2 260.4,202.3 260.7,204.5 260.6,204.7 261.0,197.0 261.4,204.7 261.0,204.7 261.3,206.2 261.6,207.0 262.0,202.7 262.3,207.6 262.6,204.9 262.9,206.1 263.2,208.5 263.1,207.7 263.5,200.0 263.9,207.7 263.5,207.7 263.8,206.1 264.1,205.9 264.5,207.5 264.8,208.6 265.1,205.7 265.4,205.5 265.0,205.8 265.4,199.6 265.8,205.8 265.7,212.5 266.0,208.1 266.3,207.2 266.6,208.6 266.9,210.4 267.3,205.0 267.1,208.1 267.5,202.0 267.9,208.1 267.6,208.9 267.9,210.2 268.2,207.5 268.5,211.6 268.8,209.8 269.1,209.0 269.4,212.1 269.8,209.5 270.1,212.4 270.4,211.5 270.0,211.5 270.4,199.6 270.8,211.5 270.7,212.0 271.0,211.2 271.3,212.7 271.6,213.1 271.9,213.4 272.2,212.5 272.6,212.0 272.9,212.1 273.2,213.8 272.9,213.7 273.3,205.0 273.7,213.7 273.5,213.5 273.8,213.5 274.1,218.5 274.4,217.5 274.7,215.7 275.0,214.8 275.4,218.2 275.7,212.7 276.0,217.6 276.3,216.4 276.6,217.7 276.5,215.5 276.9,207.4 277.2,215.5 276.9,215.4 277.2,218.7 277.5,213.8 277.9,217.6 278.2,219.1 278.5,217.8 278.8,215.4 279.1,218.7 279.4,217.5 279.7,218.2 280.0,215.4 280.3,217.4 280.0,217.3 280.4,211.7 280.8,217.3 280.7,216.8 281.0,220.3 281.3,219.1 281.6,220.2 281.9,220.1 282.2,216.4 282.5,218.1 282.8,222.5 283.2,217.9 283.5,220.2 283.8,218.6 284.1,219.0 284.4,216.8 284.7,220.8 284.6,220.2 285.0,212.0 285.4,220.2 285.0,220.1 285.3,220.4 285.6,221.2 286.0,217.4 286.3,218.5 286.6,221.7 286.9,219.0 287.2,220.6 287.5,219.7 287.8,223.4 287.6,221.8 288.0,212.6 288.4,221.8 288.1,220.5 288.5,218.4 288.8,221.4 289.1,221.1 289.4,220.5 289.7,223.5 290.0,220.6 290.3,220.5 290.6,225.7 290.9,220.8 291.3,221.7 291.6,223.1 291.9,223.7 292.2,226.1 292.5,222.1 292.4,221.5 292.8,217.5 293.2,221.5 292.8,221.4 293.1,220.1 293.4,221.9 293.8,221.9 294.1,221.3 294.4,223.8 294.7,221.8 295.0,220.6 295.3,224.9 295.6,220.3 295.9,220.8 296.2,219.9 296.6,225.1 296.9,224.8 297.2,223.5 297.5,222.8 297.8,221.8 298.1,224.7 298.4,222.8 298.7,223.2 299.0,224.3 299.4,222.0 299.7,221.2 300.0,225.0 300.3,222.5 300.6,225.4 300.9,226.3 300.6,225.5 301.0,221.0 301.4,225.5 301.2,223.3 301.5,226.1 301.9,225.2 302.2,226.0 302.5,224.3 302.8,225.3 303.1,225.9 303.4,227.9 303.7,226.4 303.6,226.2 304.0,220.5 304.4,226.2 304.0,226.2 304.3,223.7 304.7,226.0 305.0,224.6 305.3,225.5 305.6,226.0 305.9,227.0 306.2,226.5 306.5,226.0 306.8,225.7 307.2,227.7 307.5,224.6 307.1,224.7 307.5,221.0 307.9,224.7 307.8,225.9 308.1,227.8 308.4,225.6 308.7,227.1 309.0,227.2 309.3,228.8 309.6,227.6 310.0,223.7 310.3,226.1 310.6,226.5 310.9,227.3 311.2,226.7 311.5,228.8 311.8,227.8 312.1,226.3 312.5,226.3 312.8,226.3 313.1,226.4 313.4,226.4 313.7,226.4 314.0,226.4 314.3,226.5 314.6,226.5 314.9,226.5 315.3,226.5 315.6,226.6 315.9,226.6 316.2,226.6 316.5,226.6 316.8,226.6 317.1,226.7 317.4,226.7 317.8,226.7 318.1,226.7 318.4,226.7 318.7,226.7 319.0,226.8 319.3,226.8 319.6,226.8 319.9,226.8 320.2,226.8 320.6,226.8 320.9,226.9 321.2,226.9 321.5,226.9 321.8,226.9 322.1,226.9 322.4,227.0 322.7,227.0 323.0,227.0 323.4,227.0 323.7,227.0 324.0,227.1 324.3,227.1 324.6,227.1 324.9,227.1 325.2,227.1 325.5,227.1 325.9,227.2 326.2,227.2 326.5,227.2 326.8,227.2 327.1,227.2 327.4,227.2 327.7,227.3 328.0,227.3 328.3,227.3 328.7,227.3 329.0,227.3 329.3,227.3 329.6,227.4 329.9,227.4 330.2,227.4 330.5,227.4 330.8,227.4 331.2,227.4 331.5,227.5 331.8,227.5 332.1,227.5 332.4,227.5 332.7,227.5 333.0,227.5 333.3,227.6 333.6,227.6 334.0,227.6 334.3,227.6 334.6,227.6 334.9,227.6 335.2,227.6 335.5,227.6 335.8,227.7 336.1,227.7 336.5,227.7 336.8,227.7 337.1,227.7 337.4,227.7 337.7,227.7 338.0,227.8 338.3,227.8 338.6,227.8 338.9,227.8 339.3,227.8 339.6,227.8 339.9,227.8 340.2,227.8 340.5,227.9 340.8,227.9 341.1,227.9 341.4,227.9 341.8,227.9 342.1,227.9 342.4,227.9 342.7,227.9 343.0,227.9 343.3,227.9 343.6,228.0 343.9,228.0 344.2,228.0 344.6,228.0 344.9,228.0 345.2,228.0 345.5,228.0 345.8,228.0 346.1,228.0 346.4,228.0 346.7,228.1 347.0,228.1 347.4,228.1 347.7,228.1 348.0,228.1 348.3,228.1 348.6,228.1 348.9,228.1 349.2,228.1 349.5,228.1 349.9,228.1 350.2,228.1 350.5,228.2 350.8,228.2 351.1,228.2 351.4,228.2 351.7,228.2 352.0,228.2 352.3,228.2 352.7,228.2 353.0,228.2 353.3,228.2 353.6,228.2 353.9,228.2 354.2,228.2 354.5,228.3 354.8,228.3 355.2,228.3 355.5,228.3 355.8,228.3 356.1,228.3 356.4,228.3 356.7,228.3 357.0,228.3 357.3,228.3 357.6,228.3 358.0,228.3 358.3,228.3 358.6,228.3 358.9,228.3 359.2,228.3 359.5,228.4 359.8,228.4 360.1,228.4 360.5,228.4 360.8,228.4 361.1,228.4 361.4,228.4 361.7,228.4 362.0,228.4 362.3,228.4 362.6,228.4 362.9,228.4" stroke="#2ca02c" stroke-width="0.9" stroke-opacity="0.7"/>
<polyline points="253.9,139.2 253.9,147.7 254.0,151.6 254.1,161.3 254.2,168.0 254.2,172.1 254.3,173.1 254.4,176.7 254.5,180.5 254.6,181.3 254.6,183.4 254.7,185.5 254.8,186.5 254.9,188.1 254.9,189.1 255.0,189.7 255.1,190.6 255.2,189.9 255.3,190.2 255.3,191.2 255.4,191.2 255.5,192.4 255.6,192.8 255.6,193.1 255.7,193.6 255.8,193.1 255.9,192.5 256.0,193.9 256.0,194.3 256.1,195.0 256.2,193.8 256.3,193.4 256.3,195.2 256.4,195.0 256.5,195.9 256.6,195.3 256.7,196.4 256.7,195.7 256.8,196.3 256.9,197.0 257.0,195.9 257.3,196.9 257.6,198.4 257.9,198.1 258.2,199.4 258.5,199.9 258.8,199.1 259.2,200.6 259.5,201.2 259.8,202.5 260.1,202.5 260.4,203.4 260.7,204.1 261.0,204.1 261.3,203.8 261.6,203.3 261.5,205.3 261.9,198.0 262.2,205.3 262.0,205.8 262.3,205.6 262.6,206.3 262.2,206.3 262.6,201.0 263.0,206.3 262.9,206.0 263.2,206.8 263.5,206.0 263.8,207.5 264.1,207.6 264.5,207.1 264.3,207.5 264.7,197.4 265.1,207.5 264.8,207.6 265.1,208.3 265.4,208.5 265.7,208.1 266.0,208.5 265.8,208.9 266.2,203.0 266.6,208.9 266.3,209.1 266.6,208.6 266.9,209.3 267.3,209.1 267.6,208.2 267.9,208.2 268.2,210.6 268.5,209.8 268.8,210.5 268.6,210.6 269.0,192.4 269.4,210.6 269.1,210.6 269.4,210.8 269.2,211.1 269.6,196.0 270.0,211.1 269.8,211.4 270.1,211.4 270.4,212.3 270.7,212.6 271.0,212.7 271.3,212.8 271.6,212.3 271.5,213.2 271.9,198.0 272.2,213.2 271.9,213.3 272.2,213.2 272.6,212.7 272.4,213.3 272.8,201.0 273.2,213.3 272.9,213.5 273.2,214.4 273.5,214.2 273.8,214.9 274.1,214.2 274.4,214.3 274.3,215.4 274.7,206.5 275.1,215.4 274.7,215.5 275.0,214.8 275.4,214.0 275.7,214.9 276.0,216.2 276.3,215.8 276.6,216.4 276.9,216.2 277.2,216.2 277.5,217.1 277.9,217.2 277.6,216.9 278.0,210.0 278.4,216.9 278.2,216.5 278.5,216.4 278.8,217.5 279.1,217.7 279.4,217.4 279.7,217.9 280.0,218.2 280.3,218.1 280.7,217.3 281.0,216.3 281.3,216.8 281.6,218.8 281.9,217.4 282.2,219.3 282.5,218.8 282.8,218.9 282.6,219.1 283.0,214.0 283.4,219.1 283.2,219.2 283.5,218.5 283.8,219.0 284.1,218.8 284.4,219.6 284.7,219.2 285.0,219.9 285.3,220.0 285.6,219.5 286.0,219.7 286.3,220.4 286.6,218.7 286.9,220.9 286.5,220.9 286.9,199.6 287.2,220.9 287.2,220.6 287.1,220.6 287.5,203.0 287.9,220.6 287.5,220.6 287.8,221.3 288.1,220.9 288.5,221.7 288.8,219.6 289.1,221.6 289.4,221.5 289.7,220.3 290.0,221.3 290.3,222.2 290.6,222.2 290.9,221.1 291.3,221.9 291.6,222.0 291.9,222.7 291.6,222.4 292.0,216.0 292.4,222.4 292.2,221.9 292.5,222.1 292.8,221.7 293.1,222.7 293.4,222.1 293.8,222.7 294.1,223.1 294.4,223.0 294.7,223.3 295.0,220.7 295.3,223.2 295.6,223.2 295.9,222.9 296.2,222.8 296.6,223.5 296.9,223.2 297.2,223.7 297.5,223.9 297.8,223.3 298.1,224.0 298.4,223.7 298.7,222.6 299.0,223.7 299.4,224.4 299.7,223.2 300.0,222.5 300.3,223.2 300.6,224.1 300.9,224.4 301.2,224.5 301.5,224.5 301.9,222.9 302.2,224.6 302.5,223.6 302.8,224.5 303.1,222.6 303.4,224.4 303.7,224.3 304.0,223.3 304.3,223.0 304.7,224.6 305.0,224.8 305.3,224.3 305.6,224.5 305.9,225.0 306.2,224.6 306.5,224.9 306.8,224.1 307.2,225.5 307.5,225.5 307.8,225.2 308.1,225.4 308.4,225.1 308.7,225.5 309.0,225.2 309.3,225.3 309.6,224.5 310.0,224.7 310.3,225.9 310.6,226.0 310.9,226.0 311.2,226.0 311.5,226.1 311.8,226.1 312.1,226.1 312.5,226.2 312.8,226.2 313.1,226.2 313.4,226.2 313.7,226.3 314.0,226.3 314.3,226.3 314.6,226.4 314.9,226.4 315.3,226.4 315.6,226.5 315.9,226.5 316.2,226.5 316.5,226.5 316.8,226.6 317.1,226.6 317.4,226.6 317.8,226.6 318.1,226.7 318.4,226.7 318.7,226.7 319.0,226.7 319.3,226.8 319.6,226.8 319.9,226.8 320.2,226.8 320.6,226.8 320.9,226.9 321.2,226.9 321.5,226.9 321.8,226.9 322.1,226.9 322.4,227.0 322.7,227.0 323.0,227.0 323.4,227.0 323.7,227.0 324.0,227.1 324.3,227.1 324.6,227.1 324.9,227.1 325.2,227.1 325.5,227.1 325.9,227.2 326.2,227.2 326.5,227.2 326.8,227.2 327.1,227.2 327.4,227.2 327.7,227.3 328.0,227.3 328.3,227.3 328.7,227.3 329.0,227.3 329.3,227.3 329.6,227.4 329.9,227.4 330.2,227.4 330.5,227.4 330.8,227.4 331.2,227.4 331.5,227.5 331.8,227.5 332.1,227.5 332.4,227.5 332.7,227.5 333.0,227.5 333.3,227.6 333.6,227.6 334.0,227.6 334.3,227.6 334.6,227.6 334.9,227.6 335.2,227.6 335.5,227.6 335.8,227.7 336.1,227.7 336.5,227.7 336.8,227.7 337.1,227.7 337.4,227.7 337.7,227.7 338.0,227.8 338.3,227.8 338.6,227.8 338.9,227.8 339.3,227.8 339.6,227.8 339.9,227.8 340.2,227.8 340.5,227.9 340.8,227.9 341.1,227.9 341.4,227.9 341.8,227.9 342.1,227.9 342.4,227.9 342.7,227.9 343.0,227.9 343.3,227.9 343.6,228.0 343.9,228.0 344.2,228.0 344.6,228.0 344.9,228.0 345.2,228.0 345.5,228.0 345.8,228.0 346.1,228.0 346.4,228.0 346.7,228.1 347.0,228.1 347.4,228.1 347.7,228.1 348.0,228.1 348.3,228.1 348.6,228.1 348.9,228.1 349.2,228.1 349.5,228.1 349.9,228.1 350.2,228.1 350.5,228.2 350.8,228.2 351.1,228.2 351.4,228.2 351.7,228.2 352.0,228.2 352.3,228.2 352.7,228.2 353.0,228.2 353.3,228.2 353.6,228.2 353.9,228.2 354.2,228.2 354.5,228.3 354.8,228.3 355.2,228.3 355.5,228.3 355.8,228.3 356.1,228.3 356.4,228.3 356.7,228.3 357.0,228.3 357.3,228.3 357.6,228.3 358.0,228.3 358.3,228.3 358.6,228.3 358.9,228.3 359.2,228.3 359.5,228.4 359.8,228.4 360.1,228.4 360.5,228.4 360.8,228.4 361.1,228.4 361.4,228.4 361.7,228.4 362.0,228.4 362.3,228.4 362.6,228.4 362.9,228.4" stroke="#d62728" stroke-width="0.9" stroke-opacity="0.5"/>
<polyline points="255.3,193.8 255.3,194.4 255.4,195.1 255.5,195.6 255.6,196.2 255.6,196.7 255.7,197.1 255.8,197.6 255.9,198.0 256.0,198.4 256.0,198.8 256.1,199.2 256.2,199.5 256.3,199.9 256.3,200.2 256.4,200.6 256.5,200.9 256.6,201.2 256.7,201.5 256.7,201.8 256.8,202.0 256.9,202.3 257.0,202.6 257.3,203.5 257.6,204.4 257.9,205.3 258.2,206.2 258.5,207.1 258.8,207.9 259.2,208.7 259.5,209.4 259.8,210.1 260.1,210.8 260.4,211.4 260.7,212.0 261.0,212.6 261.3,213.2 261.6,213.7 262.0,214.1 262.3,214.5 262.6,214.9 262.9,215.3 263.2,215.7 263.5,216.0 263.8,216.3 264.1,216.6 264.5,216.9 264.8,217.1 265.1,217.3 265.4,217.5 265.7,217.7 266.0,217.9 266.3,218.1 266.6,218.2 266.9,218.4 267.3,218.5 267.6,218.7 267.9,218.8 268.2,218.9 268.5,219.1 268.8,219.2 269.1,219.3 269.4,219.4 269.8,219.5 270.1,219.6 270.4,219.7 270.7,219.8 271.0,219.9 271.3,220.0 271.6,220.1 271.9,220.2 272.2,220.3 272.6,220.4 272.9,220.4 273.2,220.5 273.5,220.6 273.8,220.7 274.1,220.8 274.4,220.8 274.7,220.9 275.0,221.0 275.4,221.1 275.7,221.1 276.0,221.2 276.3,221.3 276.6,221.3 276.9,221.4 277.2,221.5 277.5,221.5 277.9,221.6 278.2,221.7 278.5,221.7 278.8,221.8 279.1,221.9 279.4,221.9 279.7,222.0 280.0,222.1 280.3,222.1 280.7,222.2 281.0,222.3 281.3,222.3 281.6,222.4 281.9,222.4 282.2,222.5 282.5,222.6 282.8,222.6 283.2,222.7 283.5,222.7 283.8,222.8 284.1,222.8 284.4,222.9 284.7,223.0 285.0,223.0 285.3,223.1 285.6,223.1 286.0,223.2 286.3,223.2 286.6,223.3 286.9,223.3 287.2,223.4 287.5,223.4 287.8,223.5 288.1,223.5 288.5,223.6 288.8,223.6 289.1,223.7 289.4,223.7 289.7,223.8 290.0,223.9 290.3,223.9 290.6,223.9 290.9,224.0 291.3,224.0 291.6,224.1 291.9,224.1 292.2,224.2 292.5,224.2 292.8,224.3 293.1,224.3 293.4,224.3 293.8,224.4 294.1,224.4 294.4,224.5 294.7,224.5 295.0,224.5 295.3,224.6 295.6,224.6 295.9,224.7 296.2,224.7 296.6,224.7 296.9,224.8 297.2,224.8 297.5,224.8 297.8,224.9 298.1,224.9 298.4,224.9 298.7,224.9 299.0,225.0 299.4,225.0 299.7,225.0 300.0,225.0 300.3,225.1 300.6,225.1 300.9,225.1 301.2,225.1 301.5,225.2 301.9,225.2 302.2,225.2 302.5,225.2 302.8,225.3 303.1,225.3 303.4,225.3 303.7,225.3 304.0,225.3 304.3,225.4 304.7,225.4 305.0,225.4 305.3,225.4 305.6,225.4 305.9,225.5 306.2,225.5 306.5,225.5 306.8,225.5 307.2,225.5 307.5,225.6 307.8,225.6 308.1,225.6 308.4,225.6 308.7,225.6 309.0,225.6 309.3,225.7 309.6,225.7 310.0,225.7 310.3,225.7 310.6,225.7 310.9,225.7 311.2,225.8 311.5,225.8 311.8,225.8 312.1,225.8 312.5,225.8 312.8,225.8 313.1,225.8 313.4,225.9" stroke="#1f77b4" stroke-width="1.0" stroke-opacity="1"/>
<polyline points="310.6,225.7 310.9,225.7 311.2,225.8 311.5,225.8 311.8,225.8 312.1,225.8 312.5,225.8 312.8,225.8 313.1,225.8 313.4,225.9 313.7,225.9 314.0,225.9 314.3,225.9 314.6,225.9 314.9,225.9 315.3,225.9 315.6,225.9 315.9,225.9 316.2,226.0 316.5,226.0 316.8,226.0 317.1,226.0 317.4,226.0 317.8,226.0 318.1,226.0 318.4,226.0 318.7,226.0 319.0,226.0 319.3,226.0 319.6,226.0 319.9,226.0 320.2,226.1 320.6,226.1 320.9,226.1 321.2,226.1 321.5,226.1 321.8,226.1 322.1,226.1 322.4,226.1 322.7,226.1 323.0,226.1 323.4,226.1 323.7,226.1 324.0,226.1 324.3,226.1 324.6,226.1 324.9,226.1 325.2,226.1 325.5,226.1 325.9,226.1 326.2,226.1 326.5,226.1 326.8,226.1 327.1,226.1 327.4,226.1 327.7,226.1 328.0,226.2 328.3,226.2 328.7,226.2 329.0,226.2 329.3,226.2 329.6,226.2 329.9,226.2 330.2,226.2 330.5,226.2 330.8,226.2 331.2,226.2 331.5,226.2 331.8,226.2 332.1,226.2 332.4,226.2 332.7,226.2 333.0,226.2 333.3,226.2 333.6,226.2 334.0,226.2 334.3,226.3 334.6,226.3 334.9,226.3 335.2,226.3 335.5,226.3 335.8,226.3 336.1,226.3 336.5,226.3 336.8,226.3 337.1,226.3 337.4,226.3 337.7,226.3 338.0,226.3 338.3,226.3 338.6,226.3 338.9,226.3 339.3,226.3 339.6,226.3 339.9,226.3 340.2,226.3 340.5,226.4 340.8,226.4 341.1,226.4 341.4,226.4 341.8,226.4 342.1,226.4 342.4,226.4 342.7,226.4 343.0,226.4 343.3,226.4 343.6,226.4 343.9,226.4 344.2,226.4 344.6,226.4 344.9,226.4 345.2,226.4 345.5,226.4 345.8,226.4 346.1,226.4 346.4,226.4 346.7,226.4 347.0,226.4 347.4,226.4 347.7,226.4 348.0,226.4 348.3,226.4 348.6,226.4 348.9,226.4 349.2,226.4 349.5,226.4 349.9,226.4 350.2,226.4 350.5,226.4 350.8,226.4 351.1,226.4 351.4,226.5 351.7,226.5 352.0,226.5 352.3,226.5 352.7,226.5 353.0,226.5 353.3,226.5 353.6,226.5 353.9,226.5 354.2,226.5 354.5,226.5 354.8,226.5 355.2,226.5 355.5,226.5 355.8,226.5 356.1,226.5 356.4,226.5 356.7,226.5 357.0,226.5 357.3,226.5 357.6,226.5 358.0,226.5 358.3,226.5 358.6,226.5 358.9,226.5 359.2,226.5 359.5,226.5 359.8,226.5 360.1,226.5 360.5,226.5 360.8,226.5 361.1,226.5 361.4,226.5 361.7,226.5 362.0,226.5 362.3,226.5 362.6,226.5 362.9,226.5" stroke="#1f77b4" stroke-width="1.0" stroke-opacity="0.0"/>
<polyline points="255.3,193.2 255.3,193.8 255.4,194.5 255.5,195.0 255.6,195.6 255.6,196.1 255.7,196.5 255.8,197.0 255.9,197.4 256.0,197.8 256.0,198.2 256.1,198.6 256.2,198.9 256.3,199.3 256.3,199.6 256.4,200.0 256.5,200.3 256.6,200.6 256.7,200.9 256.7,201.2 256.8,201.4 256.9,201.7 257.0,202.0 257.3,202.9 257.6,203.8 257.9,204.7 258.2,205.6 258.5,206.5 258.8,207.3 259.2,208.1 259.5,208.8 259.8,209.5 260.1,210.2 260.4,210.8 260.7,211.4 261.0,212.0 261.3,212.6 261.6,213.1 262.0,213.5 262.3,213.9 262.6,214.3 262.9,214.7 263.2,215.1 263.5,215.4 263.8,215.7 264.1,216.0 264.5,216.3 264.8,216.5 265.1,216.7 265.4,216.9 265.7,217.1 266.0,217.3 266.3,217.5 266.6,217.6 266.9,217.8 267.3,217.9 267.6,218.1 267.9,218.2 268.2,218.3 268.5,218.5 268.8,218.6 269.1,218.7 269.4,218.8 269.8,218.9 270.1,219.0 270.4,219.1 270.7,219.2 271.0,219.3 271.3,219.4 271.6,219.5 271.9,219.6 272.2,219.7 272.6,219.8 272.9,219.8 273.2,219.9 273.5,220.0 273.8,220.1 274.1,220.2 274.4,220.2 274.7,220.3 275.0,220.4 275.4,220.5 275.7,220.5 276.0,220.6 276.3,220.7 276.6,220.7 276.9,220.8 277.2,220.9 277.5,220.9 277.9,221.0 278.2,221.1 278.5,221.1 278.8,221.2 279.1,221.3 279.4,221.3 279.7,221.4 280.0,221.5 280.3,221.5 280.7,221.6 281.0,221.7 281.3,221.7 281.6,221.8 281.9,221.8 282.2,221.9 282.5,222.0 282.8,222.0 283.2,222.1 283.5,222.1 283.8,222.2 284.1,222.2 284.4,222.3 284.7,222.4 285.0,222.4 285.3,222.5 285.6,222.5 286.0,222.6 286.3,222.6 286.6,222.7 286.9,222.7 287.2,222.8 287.5,222.8 287.8,222.9 288.1,222.9 288.5,223.0 288.8,223.0 289.1,223.1 289.4,223.1 289.7,223.2 290.0,223.3 290.3,223.3 290.6,223.4 290.9,223.4 291.3,223.5 291.6,223.5 291.9,223.6 292.2,223.6 292.5,223.6 292.8,223.7 293.1,223.7 293.4,223.8 293.8,223.8 294.1,223.9 294.4,223.9 294.7,224.0 295.0,224.0 295.3,224.1 295.6,224.1 295.9,224.1 296.2,224.2 296.6,224.2 296.9,224.3 297.2,224.3 297.5,224.3 297.8,224.4 298.1,224.4 298.4,224.4 298.7,224.5 299.0,224.5 299.4,224.5 299.7,224.6 300.0,224.6 300.3,224.6 300.6,224.7 300.9,224.7 301.2,224.7 301.5,224.7 301.9,224.8 302.2,224.8 302.5,224.8 302.8,224.8 303.1,224.9 303.4,224.9 303.7,224.9 304.0,225.0 304.3,225.0 304.7,225.0 305.0,225.0 305.3,225.1 305.6,225.1 305.9,225.1 306.2,225.1 306.5,225.2 306.8,225.2 307.2,225.2 307.5,225.2 307.8,225.2 308.1,225.3 308.4,225.3 308.7,225.3 309.0,225.3 309.3,225.4 309.6,225.4 310.0,225.4 310.3,225.4 310.6,225.4 310.9,225.5 311.2,225.5 311.5,225.5 311.8,225.5 312.1,225.5 312.5,225.6 312.8,225.6 313.1,225.6 313.4,225.6" stroke="#ff7f0e" stroke-width="1.0" stroke-opacity="1"/>
<polyline points="310.6,225.4 310.9,225.5 311.2,225.5 311.5,225.5 311.8,225.5 312.1,225.5 312.5,225.6 312.8,225.6 313.1,225.6 313.4,225.6 313.7,225.6 314.0,225.6 314.3,225.7 314.6,225.7 314.9,225.7 315.3,225.7 315.6,225.7 315.9,225.7 316.2,225.8 316.5,225.8 316.8,225.8 317.1,225.8 317.4,225.8 317.8,225.8 318.1,225.8 318.4,225.8 318.7,225.9 319.0,225.9 319.3,225.9 319.6,225.9 319.9,225.9 320.2,225.9 320.6,225.9 320.9,225.9 321.2,225.9 321.5,225.9 321.8,226.0 322.1,226.0 322.4,226.0 322.7,226.0 323.0,226.0 323.4,226.0 323.7,226.0 324.0,226.0 324.3,226.0 324.6,226.0 324.9,226.0 325.2,226.1 325.5,226.1 325.9,226.1 326.2,226.1 326.5,226.1 326.8,226.1 327.1,226.1 327.4,226.1 327.7,226.1 328.0,226.1 328.3,226.1 328.7,226.1 329.0,226.1 329.3,226.2 329.6,226.2 329.9,226.2 330.2,226.2 330.5,226.2 330.8,226.2 331.2,226.2 331.5,226.2 331.8,226.2 332.1,226.2 332.4,226.2 332.7,226.2 333.0,226.2 333.3,226.2 333.6,226.2 334.0,226.2 334.3,226.3 334.6,226.3 334.9,226.3 335.2,226.3 335.5,226.3 335.8,226.3 336.1,226.3 336.5,226.3 336.8,226.3 337.1,226.3 337.4,226.3 337.7,226.3 338.0,226.3 338.3,226.3 338.6,226.3 338.9,226.3 339.3,226.3 339.6,226.3 339.9,226.3 340.2,226.3 340.5,226.4 340.8,226.4 341.1,226.4 341.4,226.4 341.8,226.4 342.1,226.4 342.4,226.4 342.7,226.4 343.0,226.4 343.3,226.4 343.6,226.4 343.9,226.4 344.2,226.4 344.6,226.4 344.9,226.4 345.2,226.4 345.5,226.4 345.8,226.4 346.1,226.4 346.4,226.4 346.7,226.4 347.0,226.4 347.4,226.4 347.7,226.4 348.0,226.4 348.3,226.4 348.6,226.4 348.9,226.4 349.2,226.4 349.5,226.4 349.9,226.4 350.2,226.4 350.5,226.4 350.8,226.4 351.1,226.4 351.4,226.5 351.7,226.5 352.0,226.5 352.3,226.5 352.7,226.5 353.0,226.5 353.3,226.5 353.6,226.5 353.9,226.5 354.2,226.5 354.5,226.5 354.8,226.5 355.2,226.5 355.5,226.5 355.8,226.5 356.1,226.5 356.4,226.5 356.7,226.5 357.0,226.5 357.3,226.5 357.6,226.5 358.0,226.5 358.3,226.5 358.6,226.5 358.9,226.5 359.2,226.5 359.5,226.5 359.8,226.5 360.1,226.5 360.5,226.5 360.8,226.5 361.1,226.5 361.4,226.5 361.7,226.5 362.0,226.5 362.3,226.5 362.6,226.5 362.9,226.5" stroke="#ff7f0e" stroke-width="1.0" stroke-opacity="0.35"/>
<polyline points="255.3,192.6 255.3,193.0 255.4,193.4 255.5,193.7 255.6,194.1 255.6,194.4 255.7,194.7 255.8,194.9 255.9,195.2 256.0,195.4 256.0,195.6 256.1,195.9 256.2,196.1 256.3,196.3 256.3,196.5 256.4,196.7 256.5,196.9 256.6,197.1 256.7,197.3 256.7,197.5 256.8,197.7 256.9,197.9 257.0,198.1 257.3,198.9 257.6,199.5 257.9,200.1 258.2,200.7 258.5,201.3 258.8,201.8 259.2,202.4 259.5,203.0 259.8,203.5 260.1,204.0 260.4,204.5 260.7,205.0 261.0,205.5 261.3,205.9 261.6,206.3 262.0,206.7 262.3,207.0 262.6,207.3 262.9,207.6 263.2,207.9 263.5,208.1 263.8,208.4 264.1,208.6 264.5,208.9 264.8,209.1 265.1,209.3 265.4,209.5 265.7,209.7 266.0,210.0 266.3,210.2 266.6,210.4 266.9,210.6 267.3,210.8 267.6,211.1 267.9,211.3 268.2,211.6 268.5,211.8 268.8,212.1 269.1,212.4 269.4,212.6 269.8,212.9 270.1,213.2 270.4,213.4 270.7,213.7 271.0,214.0 271.3,214.2 271.6,214.4 271.9,214.7 272.2,214.9 272.6,215.1 272.9,215.3 273.2,215.5 273.5,215.7 273.8,215.9 274.1,216.1 274.4,216.3 274.7,216.4 275.0,216.6 275.4,216.8 275.7,217.0 276.0,217.2 276.3,217.3 276.6,217.5 276.9,217.7 277.2,217.8 277.5,218.0 277.9,218.2 278.2,218.3 278.5,218.5 278.8,218.6 279.1,218.8 279.4,218.9 279.7,219.1 280.0,219.2 280.3,219.4 280.7,219.5 281.0,219.6 281.3,219.8 281.6,219.9 281.9,220.0 282.2,220.2 282.5,220.3 282.8,220.4 283.2,220.5 283.5,220.7 283.8,220.8 284.1,220.9 284.4,221.0 284.7,221.1 285.0,221.2 285.3,221.4 285.6,221.5 286.0,221.6 286.3,221.7 286.6,221.8 286.9,221.9 287.2,222.0 287.5,222.1 287.8,222.2 288.1,222.3 288.5,222.4 288.8,222.5 289.1,222.6 289.4,222.7 289.7,222.8 290.0,222.9 290.3,223.0 290.6,223.1 290.9,223.2 291.3,223.2 291.6,223.3 291.9,223.4 292.2,223.5 292.5,223.6 292.8,223.6 293.1,223.7 293.4,223.8 293.8,223.9 294.1,223.9 294.4,224.0 294.7,224.1 295.0,224.1 295.3,224.2 295.6,224.3 295.9,224.3 296.2,224.4 296.6,224.5 296.9,224.5 297.2,224.6 297.5,224.6 297.8,224.7 298.1,224.7 298.4,224.8 298.7,224.9 299.0,224.9 299.4,225.0 299.7,225.0 300.0,225.0 300.3,225.1 300.6,225.1 300.9,225.2 301.2,225.2 301.5,225.3 301.9,225.3 302.2,225.3 302.5,225.4 302.8,225.4 303.1,225.5 303.4,225.5 303.7,225.5 304.0,225.6 304.3,225.6 304.7,225.6 305.0,225.7 305.3,225.7 305.6,225.7 305.9,225.8 306.2,225.8 306.5,225.8 306.8,225.8 307.2,225.9 307.5,225.9 307.8,225.9 308.1,226.0 308.4,226.0 308.7,226.0 309.0,226.0 309.3,226.1 309.6,226.1 310.0,226.1 310.3,226.1 310.6,226.2 310.9,226.2 311.2,226.2 311.5,226.3 311.8,226.3 312.1,226.3 312.5,226.3 312.8,226.3 313.1,226.4 313.4,226.4" stroke="#2ca02c" stroke-width="1.1" stroke-opacity="1"/>
<polyline points="310.6,226.2 310.9,226.2 311.2,226.2 311.5,226.3 311.8,226.3 312.1,226.3 312.5,226.3 312.8,226.3 313.1,226.4 313.4,226.4 313.7,226.4 314.0,226.4 314.3,226.5 314.6,226.5 314.9,226.5 315.3,226.5 315.6,226.6 315.9,226.6 316.2,226.6 316.5,226.6 316.8,226.6 317.1,226.7 317.4,226.7 317.8,226.7 318.1,226.7 318.4,226.7 318.7,226.7 319.0,226.8 319.3,226.8 319.6,226.8 319.9,226.8 320.2,226.8 320.6,226.8 320.9,226.9 321.2,226.9 321.5,226.9 321.8,226.9 322.1,226.9 322.4,227.0 322.7,227.0 323.0,227.0 323.4,227.0 323.7,227.0 324.0,227.1 324.3,227.1 324.6,227.1 324.9,227.1 325.2,227.1 325.5,227.1 325.9,227.2 326.2,227.2 326.5,227.2 326.8,227.2 327.1,227.2 327.4,227.2 327.7,227.3 328.0,227.3 328.3,227.3 328.7,227.3 329.0,227.3 329.3,227.3 329.6,227.4 329.9,227.4 330.2,227.4 330.5,227.4 330.8,227.4 331.2,227.4 331.5,227.5 331.8,227.5 332.1,227.5 332.4,227.5 332.7,227.5 333.0,227.5 333.3,227.6 333.6,227.6 334.0,227.6 334.3,227.6 334.6,227.6 334.9,227.6 335.2,227.6 335.5,227.6 335.8,227.7 336.1,227.7 336.5,227.7 336.8,227.7 337.1,227.7 337.4,227.7 337.7,227.7 338.0,227.8 338.3,227.8 338.6,227.8 338.9,227.8 339.3,227.8 339.6,227.8 339.9,227.8 340.2,227.8 340.5,227.9 340.8,227.9 341.1,227.9 341.4,227.9 341.8,227.9 342.1,227.9 342.4,227.9 342.7,227.9 343.0,227.9 343.3,227.9 343.6,228.0 343.9,228.0 344.2,228.0 344.6,228.0 344.9,228.0 345.2,228.0 345.5,228.0 345.8,228.0 346.1,228.0 346.4,228.0 346.7,228.1 347.0,228.1 347.4,228.1 347.7,228.1 348.0,228.1 348.3,228.1 348.6,228.1 348.9,228.1 349.2,228.1 349.5,228.1 349.9,228.1 350.2,228.1 350.5,228.2 350.8,228.2 351.1,228.2 351.4,228.2 351.7,228.2 352.0,228.2 352.3,228.2 352.7,228.2 353.0,228.2 353.3,228.2 353.6,228.2 353.9,228.2 354.2,228.2 354.5,228.3 354.8,228.3 355.2,228.3 355.5,228.3 355.8,228.3 356.1,228.3 356.4,228.3 356.7,228.3 357.0,228.3 357.3,228.3 357.6,228.3 358.0,228.3 358.3,228.3 358.6,228.3 358.9,228.3 359.2,228.3 359.5,228.4 359.8,228.4 360.1,228.4 360.5,228.4 360.8,228.4 361.1,228.4 361.4,228.4 361.7,228.4 362.0,228.4 362.3,228.4 362.6,228.4 362.9,228.4" stroke="#2ca02c" stroke-width="1.1" stroke-opacity="0.35"/>
<polyline points="255.3,191.7 255.3,192.1 255.4,192.5 255.5,192.8 255.6,193.2 255.6,193.5 255.7,193.8 255.8,194.0 255.9,194.3 256.0,194.5 256.0,194.7 256.1,195.0 256.2,195.2 256.3,195.4 256.3,195.6 256.4,195.8 256.5,196.0 256.6,196.2 256.7,196.4 256.7,196.6 256.8,196.8 256.9,197.0 257.0,197.2 257.3,198.0 257.6,198.6 257.9,199.2 258.2,199.8 258.5,200.4 258.8,200.9 259.2,201.5 259.5,202.1 259.8,202.6 260.1,203.1 260.4,203.6 260.7,204.1 261.0,204.6 261.3,205.0 261.6,205.4 262.0,205.8 262.3,206.1 262.6,206.4 262.9,206.7 263.2,207.0 263.5,207.2 263.8,207.5 264.1,207.7 264.5,208.0 264.8,208.2 265.1,208.4 265.4,208.6 265.7,208.8 266.0,209.1 266.3,209.3 266.6,209.5 266.9,209.7 267.3,209.9 267.6,210.2 267.9,210.4 268.2,210.7 268.5,210.9 268.8,211.2 269.1,211.5 269.4,211.7 269.8,212.0 270.1,212.3 270.4,212.5 270.7,212.8 271.0,213.1 271.3,213.3 271.6,213.5 271.9,213.8 272.2,214.0 272.6,214.2 272.9,214.4 273.2,214.6 273.5,214.8 273.8,215.0 274.1,215.2 274.4,215.4 274.7,215.5 275.0,215.7 275.4,215.9 275.7,216.1 276.0,216.3 276.3,216.4 276.6,216.6 276.9,216.8 277.2,216.9 277.5,217.1 277.9,217.3 278.2,217.4 278.5,217.6 278.8,217.7 279.1,217.9 279.4,218.0 279.7,218.2 280.0,218.3 280.3,218.5 280.7,218.6 281.0,218.8 281.3,218.9 281.6,219.0 281.9,219.2 282.2,219.3 282.5,219.4 282.8,219.6 283.2,219.7 283.5,219.8 283.8,220.0 284.1,220.1 284.4,220.2 284.7,220.3 285.0,220.5 285.3,220.6 285.6,220.7 286.0,220.8 286.3,220.9 286.6,221.1 286.9,221.2 287.2,221.3 287.5,221.4 287.8,221.5 288.1,221.6 288.5,221.7 288.8,221.8 289.1,221.9 289.4,222.0 289.7,222.1 290.0,222.2 290.3,222.3 290.6,222.4 290.9,222.5 291.3,222.6 291.6,222.7 291.9,222.8 292.2,222.9 292.5,222.9 292.8,223.0 293.1,223.1 293.4,223.2 293.8,223.3 294.1,223.3 294.4,223.4 294.7,223.5 295.0,223.6 295.3,223.6 295.6,223.7 295.9,223.8 296.2,223.9 296.6,223.9 296.9,224.0 297.2,224.1 297.5,224.1 297.8,224.2 298.1,224.3 298.4,224.3 298.7,224.4 299.0,224.4 299.4,224.5 299.7,224.5 300.0,224.6 300.3,224.6 300.6,224.7 300.9,224.7 301.2,224.8 301.5,224.8 301.9,224.9 302.2,224.9 302.5,225.0 302.8,225.0 303.1,225.1 303.4,225.1 303.7,225.2 304.0,225.2 304.3,225.2 304.7,225.3 305.0,225.3 305.3,225.4 305.6,225.4 305.9,225.4 306.2,225.5 306.5,225.5 306.8,225.5 307.2,225.6 307.5,225.6 307.8,225.7 308.1,225.7 308.4,225.7 308.7,225.8 309.0,225.8 309.3,225.8 309.6,225.9 310.0,225.9 310.3,225.9 310.6,226.0 310.9,226.0 311.2,226.0 311.5,226.1 311.8,226.1 312.1,226.1 312.5,226.2 312.8,226.2 313.1,226.2 313.4,226.2" stroke="#d62728" stroke-width="1.0" stroke-opacity="1"/>
<polyline points="310.6,226.0 310.9,226.0 311.2,226.0 311.5,226.1 311.8,226.1 312.1,226.1 312.5,226.2 312.8,226.2 313.1,226.2 313.4,226.2 313.7,226.3 314.0,226.3 314.3,226.3 314.6,226.4 314.9,226.4 315.3,226.4 315.6,226.5 315.9,226.5 316.2,226.5 316.5,226.5 316.8,226.6 317.1,226.6 317.4,226.6 317.8,226.6 318.1,226.7 318.4,226.7 318.7,226.7 319.0,226.7 319.3,226.8 319.6,226.8 319.9,226.8 320.2,226.8 320.6,226.8 320.9,226.9 321.2,226.9 321.5,226.9 321.8,226.9 322.1,226.9 322.4,227.0 322.7,227.0 323.0,227.0 323.4,227.0 323.7,227.0 324.0,227.1 324.3,227.1 324.6,227.1 324.9,227.1 325.2,227.1 325.5,227.1 325.9,227.2 326.2,227.2 326.5,227.2 326.8,227.2 327.1,227.2 327.4,227.2 327.7,227.3 328.0,227.3 328.3,227.3 328.7,227.3 329.0,227.3 329.3,227.3 329.6,227.4 329.9,227.4 330.2,227.4 330.5,227.4 330.8,227.4 331.2,227.4 331.5,227.5 331.8,227.5 332.1,227.5 332.4,227.5 332.7,227.5 333.0,227.5 333.3,227.6 333.6,227.6 334.0,227.6 334.3,227.6 334.6,227.6 334.9,227.6 335.2,227.6 335.5,227.6 335.8,227.7 336.1,227.7 336.5,227.7 336.8,227.7 337.1,227.7 337.4,227.7 337.7,227.7 338.0,227.8 338.3,227.8 338.6,227.8 338.9,227.8 339.3,227.8 339.6,227.8 339.9,227.8 340.2,227.8 340.5,227.9 340.8,227.9 341.1,227.9 341.4,227.9 341.8,227.9 342.1,227.9 342.4,227.9 342.7,227.9 343.0,227.9 343.3,227.9 343.6,228.0 343.9,228.0 344.2,228.0 344.6,228.0 344.9,228.0 345.2,228.0 345.5,228.0 345.8,228.0 346.1,228.0 346.4,228.0 346.7,228.1 347.0,228.1 347.4,228.1 347.7,228.1 348.0,228.1 348.3,228.1 348.6,228.1 348.9,228.1 349.2,228.1 349.5,228.1 349.9,228.1 350.2,228.1 350.5,228.2 350.8,228.2 351.1,228.2 351.4,228.2 351.7,228.2 352.0,228.2 352.3,228.2 352.7,228.2 353.0,228.2 353.3,228.2 353.6,228.2 353.9,228.2 354.2,228.2 354.5,228.3 354.8,228.3 355.2,228.3 355.5,228.3 355.8,228.3 356.1,228.3 356.4,228.3 356.7,228.3 357.0,228.3 357.3,228.3 357.6,228.3 358.0,228.3 358.3,228.3 358.6,228.3 358.9,228.3 359.2,228.3 359.5,228.4 359.8,228.4 360.1,228.4 360.5,228.4 360.8,228.4 361.1,228.4 361.4,228.4 361.7,228.4 362.0,228.4 362.3,228.4 362.6,228.4 362.9,228.4" stroke="#d62728" stroke-width="1.0" stroke-opacity="0.3"/>
</g>
<line x1="247.2" y1="233.42" x2="248.4" y2="233.42" stroke="#999" stroke-width="0.5"/>
<line x1="247.2" y1="231.41" x2="248.4" y2="231.41" stroke="#999" stroke-width="0.5"/>
<line x1="247.2" y1="229.72" x2="248.4" y2="229.72" stroke="#999" stroke-width="0.5"/>
<line x1="247.2" y1="228.25" x2="248.4" y2="228.25" stroke="#999" stroke-width="0.5"/>
<line x1="247.2" y1="226.96" x2="248.4" y2="226.96" stroke="#999" stroke-width="0.5"/>
<line x1="246.2" y1="225.8" x2="248.4" y2="225.8" stroke="#666" stroke-width="0.5"/>
<line x1="247.2" y1="218.18" x2="248.4" y2="218.18" stroke="#999" stroke-width="0.5"/>
<line x1="247.2" y1="213.73" x2="248.4" y2="213.73" stroke="#999" stroke-width="0.5"/>
<line x1="247.2" y1="210.57" x2="248.4" y2="210.57" stroke="#999" stroke-width="0.5"/>
<line x1="247.2" y1="208.12" x2="248.4" y2="208.12" stroke="#999" stroke-width="0.5"/>
<line x1="247.2" y1="206.11" x2="248.4" y2="206.11" stroke="#999" stroke-width="0.5"/>
<line x1="247.2" y1="204.42" x2="248.4" y2="204.42" stroke="#999" stroke-width="0.5"/>
<line x1="247.2" y1="202.95" x2="248.4" y2="202.95" stroke="#999" stroke-width="0.5"/>
<line x1="247.2" y1="201.66" x2="248.4" y2="201.66" stroke="#999" stroke-width="0.5"/>
<line x1="246.2" y1="200.5" x2="248.4" y2="200.5" stroke="#666" stroke-width="0.5"/>
<line x1="247.2" y1="192.88" x2="248.4" y2="192.88" stroke="#999" stroke-width="0.5"/>
<line x1="247.2" y1="188.43" x2="248.4" y2="188.43" stroke="#999" stroke-width="0.5"/>
<line x1="247.2" y1="185.27" x2="248.4" y2="185.27" stroke="#999" stroke-width="0.5"/>
<line x1="247.2" y1="182.82" x2="248.4" y2="182.82" stroke="#999" stroke-width="0.5"/>
<line x1="247.2" y1="180.81" x2="248.4" y2="180.81" stroke="#999" stroke-width="0.5"/>
<line x1="247.2" y1="179.12" x2="248.4" y2="179.12" stroke="#999" stroke-width="0.5"/>
<line x1="247.2" y1="177.65" x2="248.4" y2="177.65" stroke="#999" stroke-width="0.5"/>
<line x1="247.2" y1="176.36" x2="248.4" y2="176.36" stroke="#999" stroke-width="0.5"/>
<line x1="246.2" y1="175.2" x2="248.4" y2="175.2" stroke="#666" stroke-width="0.5"/>
<line x1="247.2" y1="167.58" x2="248.4" y2="167.58" stroke="#999" stroke-width="0.5"/>
<line x1="247.2" y1="163.13" x2="248.4" y2="163.13" stroke="#999" stroke-width="0.5"/>
<line x1="247.2" y1="159.97" x2="248.4" y2="159.97" stroke="#999" stroke-width="0.5"/>
<line x1="247.2" y1="157.52" x2="248.4" y2="157.52" stroke="#999" stroke-width="0.5"/>
<line x1="247.2" y1="155.51" x2="248.4" y2="155.51" stroke="#999" stroke-width="0.5"/>
<line x1="247.2" y1="153.82" x2="248.4" y2="153.82" stroke="#999" stroke-width="0.5"/>
<line x1="247.2" y1="152.35" x2="248.4" y2="152.35" stroke="#999" stroke-width="0.5"/>
<line x1="247.2" y1="151.06" x2="248.4" y2="151.06" stroke="#999" stroke-width="0.5"/>
<line x1="246.2" y1="149.9" x2="248.4" y2="149.9" stroke="#666" stroke-width="0.5"/>
<line x1="253.85" y1="233.8" x2="253.85" y2="235.8" stroke="#666" stroke-width="0.5"/>
<text x="253.85" y="241.8" font-size="7.6" text-anchor="middle" fill="#262626">0</text>
<line x1="285.02" y1="233.8" x2="285.02" y2="235.8" stroke="#666" stroke-width="0.5"/>
<text x="285.02" y="241.8" font-size="7.6" text-anchor="middle" fill="#262626">200</text>
<line x1="316.19" y1="233.8" x2="316.19" y2="235.8" stroke="#666" stroke-width="0.5"/>
<text x="316.19" y="241.8" font-size="7.6" text-anchor="middle" fill="#262626">400</text>
<line x1="347.36" y1="233.8" x2="347.36" y2="235.8" stroke="#666" stroke-width="0.5"/>
<text x="347.36" y="241.8" font-size="7.6" text-anchor="middle" fill="#262626">600</text>
<text x="247.5" y="152.8" font-size="6.2" text-anchor="end" fill="#505050" letter-spacing="0.6">10<tspan font-size="4.6" dy="-3.4">1</tspan></text>
<text x="247.5" y="178.1" font-size="6.2" text-anchor="end" fill="#505050" letter-spacing="0.6">10<tspan font-size="4.6" dy="-3.4">0</tspan></text>
<text x="247.1" y="203.7" font-size="7.6" text-anchor="end" fill="#3a3a3a">10<tspan font-size="5.0" dy="-3.0">−1</tspan></text>
<text x="247.1" y="229" font-size="7.6" text-anchor="end" fill="#3a3a3a">10<tspan font-size="5.0" dy="-3.0">−2</tspan></text>
<text x="297.4" y="249.4" font-size="7.8" fill="#262626" textLength="22" lengthAdjust="spacingAndGlyphs">Epochs</text>
<text transform="translate(230.7,191.85) rotate(-90)" x="-17.5" font-size="6.6" fill="#262626" textLength="35" lengthAdjust="spacingAndGlyphs">Total Loss</text>
<text x="285.3" y="147.8" font-size="9.2" fill="#262626" textLength="46.2" lengthAdjust="spacingAndGlyphs">Training Loss</text>
<rect x="279.8" y="153.1" width="87.1" height="38.4" rx="1.5" fill="#fff" fill-opacity="0.85" stroke="#dedede" stroke-width="0.6"/>
<line x1="282.2" y1="158" x2="295.2" y2="158" stroke="#1f77b4" stroke-opacity="0.6" stroke-width="1.2"/>
<text x="299.5" y="160.4" font-size="7.0" fill="#262626" textLength="62.4" lengthAdjust="spacingAndGlyphs">ConvRes Validation Loss</text>
<line x1="282.2" y1="167.3" x2="295.2" y2="167.3" stroke="#ff7f0e" stroke-opacity="0.6" stroke-width="1.2"/>
<text x="299.5" y="169.7" font-size="7.0" fill="#262626" textLength="57.6" lengthAdjust="spacingAndGlyphs">ConvRes Training Loss</text>
<line x1="282.2" y1="176.6" x2="295.2" y2="176.6" stroke="#2ca02c" stroke-opacity="0.6" stroke-width="1.2"/>
<text x="299.5" y="179" font-size="7.0" fill="#262626" textLength="63.2" lengthAdjust="spacingAndGlyphs">TransRes Validation Loss</text>
<line x1="282.2" y1="185.9" x2="295.2" y2="185.9" stroke="#d62728" stroke-opacity="0.6" stroke-width="1.2"/>
<text x="299.5" y="188.3" font-size="7.0" fill="#262626" textLength="58.4" lengthAdjust="spacingAndGlyphs">TransRes Training Loss</text>
<line x1="347.7" y1="228.8" x2="302.4" y2="214.3" stroke="#8a8a8a" stroke-width="0.5"/>
<line x1="347.7" y1="224.4" x2="302.4" y2="195.5" stroke="#8a8a8a" stroke-width="0.5"/>
<line x1="362.7" y1="224.4" x2="348.1" y2="195.5" stroke="#8a8a8a" stroke-width="0.5"/>
<line x1="362.7" y1="228.8" x2="348.1" y2="214.3" stroke="#8a8a8a" stroke-width="0.5"/>
<rect x="347.7" y="224.4" width="15" height="4.4" fill="none" stroke="#8a8a8a" stroke-width="0.5"/>
<rect x="302.4" y="195.5" width="45.7" height="18.8" fill="#fff" stroke="#8f8f8f" stroke-width="0.7"/>
<clipPath id="clip248i"><rect x="302.4" y="195.5" width="45.7" height="18.8"/></clipPath>
<g clip-path="url(#clip248i)" fill="none">
<polyline points="304.2,204.8 304.6,204.5 305.0,204.5 305.3,204.7 305.7,204.7 306.1,204.5 306.5,204.5 306.9,204.5 306.7,204.5 307.0,196.3 307.3,204.5 307.3,204.7 307.3,204.6 307.6,200.6 307.9,204.6 307.6,204.5 308.0,204.7 308.4,204.7 308.8,204.6 309.2,204.6 309.6,204.7 309.9,204.7 310.3,204.6 310.7,204.6 311.1,204.7 311.5,204.6 311.9,204.7 312.2,204.6 312.6,204.5 313.0,204.6 313.4,204.8 313.8,204.8 314.1,204.4 314.5,204.6 314.9,204.6 315.3,204.6 315.7,204.6 316.1,204.6 316.4,204.5 316.8,204.6 317.2,204.6 317.6,204.5 318.0,204.5 318.4,204.5 318.7,204.5 319.1,204.7 319.5,204.5 319.9,204.6 320.3,204.6 320.7,204.7 321.0,204.6 321.4,204.7 321.8,204.6 322.2,204.6 322.6,204.7 322.9,204.5 323.3,204.6 323.7,204.8 324.1,204.6 324.5,204.6 324.9,204.8 324.6,204.8 324.9,196.6 325.2,204.8 325.2,204.6 325.2,204.7 325.5,201.7 325.8,204.7 325.6,204.7 326.0,204.4 326.4,204.6 326.8,204.5 327.2,204.6 327.5,204.7 327.9,204.6 328.3,204.6 328.7,204.3 329.1,204.7 329.4,204.7 329.8,204.6 330.2,204.6 330.6,204.6 331.0,204.7 331.4,204.7 331.7,204.8 332.1,204.5 332.5,204.5 332.9,204.6 333.3,204.7 333.7,204.6 334.0,204.6 334.4,204.5 334.8,204.5 335.2,204.5 335.6,204.4 336.0,204.6 336.3,204.6 336.7,204.7 337.1,204.5 337.5,204.5 337.9,204.4 338.2,204.5 338.6,204.7 339.0,204.9 339.4,204.5 339.8,204.6 340.2,204.7 340.5,204.5 340.9,204.7 341.3,204.6 341.7,204.6 342.1,204.7 342.5,204.6 342.8,204.5 343.2,204.7 343.6,204.6 344.0,204.5 344.4,204.5 344.8,204.7 345.1,204.5 345.5,204.6 345.9,204.7" stroke="#1f77b4" stroke-width="0.6" stroke-opacity="0.85"/>
<polyline points="304.2,204.9 304.6,205.0 305.0,204.8 305.3,204.9 305.7,204.9 306.1,205.0 306.5,204.9 306.9,204.9 307.3,204.9 307.6,204.8 308.0,204.9 308.4,204.9 308.8,204.9 309.2,204.9 309.6,204.9 309.9,204.9 310.3,205.0 310.7,204.9 311.1,205.0 311.5,204.8 311.9,204.9 312.2,204.9 312.6,205.0 313.0,204.9 313.4,204.9 313.8,204.9 314.1,204.8 314.5,204.9 314.9,204.8 315.3,204.9 315.7,205.0 316.1,204.9 316.4,204.8 316.8,204.9 317.2,204.9 317.6,204.9 318.0,205.0 318.4,204.9 318.7,204.8 319.1,204.8 319.5,204.9 319.9,204.9 320.3,204.8 320.7,204.8 321.0,204.9 321.4,204.9 321.8,204.9 322.2,204.9 322.6,204.9 322.9,205.0 323.3,204.8 323.7,204.9 324.1,205.0 324.5,204.9 324.9,204.9 325.2,204.9 325.6,204.9 326.0,204.9 326.4,204.8 326.8,204.9 327.2,204.9 327.5,204.9 327.9,204.8 328.3,204.9 328.7,204.9 329.1,204.9 329.4,205.0 329.8,204.8 330.2,204.9 330.6,204.8 331.0,205.0 331.4,204.8 331.7,204.8 332.1,204.9 332.5,204.9 332.9,204.9 333.3,204.9 333.7,204.9 334.0,205.0 334.4,204.9 334.8,204.9 335.2,205.0 335.6,204.8 336.0,204.9 336.3,205.0 336.7,204.9 337.1,204.8 337.5,204.9 337.9,205.0 338.2,204.9 338.6,204.9 339.0,204.9 339.4,204.9 339.8,205.0 340.2,204.9 340.5,205.0 340.9,204.9 341.3,204.9 341.7,204.9 342.1,204.9 342.5,204.9 342.8,204.9 343.2,205.0 343.6,204.8 344.0,204.9 344.4,204.9 344.8,204.9 345.1,204.8 345.5,204.9 345.9,204.9" stroke="#ff7f0e" stroke-width="0.9" stroke-opacity="1"/>
<polyline points="304.2,213.0 304.6,213.0 305.0,213.1 305.3,212.9 305.7,213.0 306.1,213.0 306.5,212.9 306.9,213.0 307.3,213.0 307.6,213.1 308.0,213.0 308.4,213.0 308.8,212.9 309.2,212.9 309.6,213.0 309.9,212.9 310.3,213.0 310.7,213.0 311.1,213.0 311.5,213.0 311.9,213.0 312.2,213.0 312.6,213.0 313.0,213.0 313.4,213.0 313.8,213.1 314.1,213.1 314.5,213.0 314.9,212.9 315.3,213.0 315.7,213.1 316.1,213.0 316.4,213.1 316.8,213.0 317.2,213.0 317.6,213.0 318.0,212.9 318.4,212.9 318.7,213.0 319.1,212.9 319.5,213.0 319.9,213.0 320.3,212.9 320.7,213.0 321.0,213.0 321.4,212.9 321.8,213.0 322.2,212.9 322.6,212.9 322.9,213.0 323.3,213.0 323.7,213.0 324.1,213.0 324.5,213.1 324.9,213.1 325.2,213.0 325.6,213.0 326.0,213.0 326.4,213.0 326.8,213.0 327.2,213.0 327.5,213.0 327.9,213.0 328.3,213.0 328.7,213.0 329.1,213.0 329.4,213.0 329.8,213.0 330.2,212.9 330.6,213.0 331.0,212.9 331.4,212.9 331.7,213.0 332.1,213.0 332.5,213.0 332.9,213.0 333.3,213.1 333.7,213.0 334.0,213.0 334.4,213.0 334.8,213.0 335.2,213.0 335.6,213.0 336.0,213.0 336.3,212.9 336.7,213.0 337.1,213.0 337.5,213.0 337.9,213.0 338.2,212.9 338.6,212.9 339.0,213.0 339.4,213.0 339.8,213.0 340.2,213.0 340.5,213.1 340.9,213.0 341.3,213.0 341.7,213.0 342.1,213.0 342.5,213.0 342.8,213.0 343.2,213.0 343.6,213.0 344.0,213.0 344.4,213.0 344.8,213.1 345.1,213.0 345.5,213.0 345.9,212.9" stroke="#d62728" stroke-width="0.9" stroke-opacity="0.7"/>
<polyline points="304.2,212.3 304.6,212.3 305.0,212.3 305.3,212.2 305.7,212.3 305.4,212.3 306.0,211.8 306.6,212.3 306.1,212.3 306.5,212.3 306.9,212.3 307.3,212.3 307.6,212.3 308.0,212.4 308.4,212.3 308.8,212.4 309.2,212.4 309.6,212.3 309.9,212.3 310.3,212.2 310.7,212.2 311.1,212.3 311.5,212.3 311.9,212.3 312.2,212.3 312.6,212.2 313.0,212.2 312.2,212.2 313.0,211.4 313.8,212.2 313.4,212.4 313.8,212.3 314.1,212.4 314.5,212.3 314.9,212.3 315.3,212.3 315.7,212.3 315.0,212.3 316.0,210.9 317.0,212.3 316.1,212.3 316.4,212.3 316.8,212.4 317.2,212.3 317.6,212.1 318.0,212.3 318.4,212.3 318.7,212.3 318.2,212.3 319.0,211.4 319.8,212.3 319.1,212.3 319.5,212.3 319.9,212.3 320.3,212.3 320.7,212.3 321.0,212.4 321.4,212.3 321.8,212.3 322.2,212.4 322.6,212.4 322.9,212.3 323.3,212.3 323.7,212.3 324.1,212.2 324.5,212.3 324.9,212.2 325.2,212.3 325.6,212.3 325.4,212.3 326.0,211.7 326.6,212.3 326.0,212.4 326.4,212.3 326.8,212.4 327.2,212.2 327.5,212.3 327.9,212.4 328.3,212.4 328.7,212.4 329.1,212.4 329.4,212.4 329.8,212.3 330.2,212.3 330.6,212.3 331.0,212.3 330.4,212.3 331.0,211.6 331.6,212.3 331.4,212.3 331.7,212.3 332.1,212.2 332.5,212.2 332.9,212.4 333.3,212.4 333.7,212.2 334.0,212.3 334.4,212.3 334.8,212.2 335.2,212.3 335.6,212.3 336.0,212.3 335.0,212.3 336.0,210.9 337.0,212.3 336.3,212.4 336.7,212.2 337.1,212.3 337.5,212.3 337.9,212.3 338.2,212.3 337.6,212.3 338.5,211.0 339.4,212.3 338.6,212.3 339.0,212.4 339.4,212.2 339.8,212.2 340.2,212.4 340.5,212.3 340.9,212.4 341.3,212.3 341.7,212.3 342.1,212.3 342.5,212.3 342.8,212.3 342.4,212.3 343.0,211.6 343.6,212.3 343.2,212.3 343.6,212.3 344.0,212.3 344.4,212.3 344.8,212.4 345.1,212.3 345.5,212.3 345.9,212.4" stroke="#2ca02c" stroke-width="0.7" stroke-opacity="1"/>
</g>
</g>
</svg>
</body></html>
